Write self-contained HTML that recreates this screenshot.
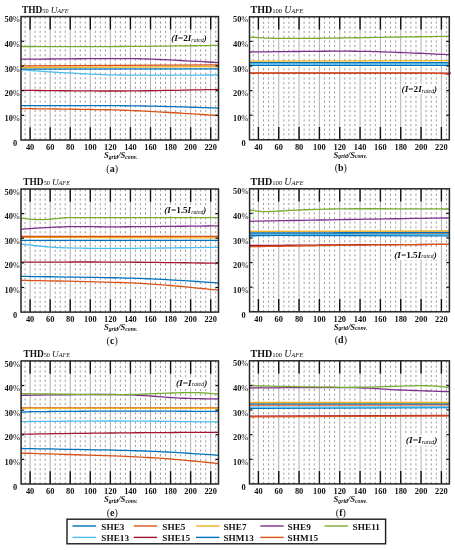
<!DOCTYPE html>
<html><head><meta charset="utf-8"><title>THD figure</title>
<style>
html,body{margin:0;padding:0;background:#fff;}
body{width:455px;height:550px;overflow:hidden;}
svg{display:block;}
svg text{font-family:'Liberation Serif','Times New Roman',serif;fill:#111;}
</style></head>
<body>
<svg width="455" height="550" viewBox="0 0 455 550">
<rect width="455" height="550" fill="#fff"/>
<line x1="25.08" y1="16.6" x2="25.08" y2="140" stroke="#8e8e8e" stroke-width="0.9" stroke-dasharray="2.1 2.55" stroke-dashoffset="-0.25" />
<line x1="35.12" y1="16.6" x2="35.12" y2="140" stroke="#8e8e8e" stroke-width="0.9" stroke-dasharray="2.1 2.55" stroke-dashoffset="-0.25" />
<line x1="40.13" y1="16.6" x2="40.13" y2="140" stroke="#8e8e8e" stroke-width="0.9" stroke-dasharray="2.1 2.55" stroke-dashoffset="-0.25" />
<line x1="45.15" y1="16.6" x2="45.15" y2="140" stroke="#8e8e8e" stroke-width="0.9" stroke-dasharray="2.1 2.55" stroke-dashoffset="-0.25" />
<line x1="55.18" y1="16.6" x2="55.18" y2="140" stroke="#8e8e8e" stroke-width="0.9" stroke-dasharray="2.1 2.55" stroke-dashoffset="-0.25" />
<line x1="60.2" y1="16.6" x2="60.2" y2="140" stroke="#8e8e8e" stroke-width="0.9" stroke-dasharray="2.1 2.55" stroke-dashoffset="-0.25" />
<line x1="65.22" y1="16.6" x2="65.22" y2="140" stroke="#8e8e8e" stroke-width="0.9" stroke-dasharray="2.1 2.55" stroke-dashoffset="-0.25" />
<line x1="75.25" y1="16.6" x2="75.25" y2="140" stroke="#8e8e8e" stroke-width="0.9" stroke-dasharray="2.1 2.55" stroke-dashoffset="-0.25" />
<line x1="80.27" y1="16.6" x2="80.27" y2="140" stroke="#8e8e8e" stroke-width="0.9" stroke-dasharray="2.1 2.55" stroke-dashoffset="-0.25" />
<line x1="85.28" y1="16.6" x2="85.28" y2="140" stroke="#8e8e8e" stroke-width="0.9" stroke-dasharray="2.1 2.55" stroke-dashoffset="-0.25" />
<line x1="95.32" y1="16.6" x2="95.32" y2="140" stroke="#8e8e8e" stroke-width="0.9" stroke-dasharray="2.1 2.55" stroke-dashoffset="-0.25" />
<line x1="100.33" y1="16.6" x2="100.33" y2="140" stroke="#8e8e8e" stroke-width="0.9" stroke-dasharray="2.1 2.55" stroke-dashoffset="-0.25" />
<line x1="105.35" y1="16.6" x2="105.35" y2="140" stroke="#8e8e8e" stroke-width="0.9" stroke-dasharray="2.1 2.55" stroke-dashoffset="-0.25" />
<line x1="115.38" y1="16.6" x2="115.38" y2="140" stroke="#8e8e8e" stroke-width="0.9" stroke-dasharray="2.1 2.55" stroke-dashoffset="-0.25" />
<line x1="120.4" y1="16.6" x2="120.4" y2="140" stroke="#8e8e8e" stroke-width="0.9" stroke-dasharray="2.1 2.55" stroke-dashoffset="-0.25" />
<line x1="125.42" y1="16.6" x2="125.42" y2="140" stroke="#8e8e8e" stroke-width="0.9" stroke-dasharray="2.1 2.55" stroke-dashoffset="-0.25" />
<line x1="135.45" y1="16.6" x2="135.45" y2="140" stroke="#8e8e8e" stroke-width="0.9" stroke-dasharray="2.1 2.55" stroke-dashoffset="-0.25" />
<line x1="140.47" y1="16.6" x2="140.47" y2="140" stroke="#8e8e8e" stroke-width="0.9" stroke-dasharray="2.1 2.55" stroke-dashoffset="-0.25" />
<line x1="145.48" y1="16.6" x2="145.48" y2="140" stroke="#8e8e8e" stroke-width="0.9" stroke-dasharray="2.1 2.55" stroke-dashoffset="-0.25" />
<line x1="155.52" y1="16.6" x2="155.52" y2="140" stroke="#8e8e8e" stroke-width="0.9" stroke-dasharray="2.1 2.55" stroke-dashoffset="-0.25" />
<line x1="160.53" y1="16.6" x2="160.53" y2="140" stroke="#8e8e8e" stroke-width="0.9" stroke-dasharray="2.1 2.55" stroke-dashoffset="-0.25" />
<line x1="165.55" y1="16.6" x2="165.55" y2="140" stroke="#8e8e8e" stroke-width="0.9" stroke-dasharray="2.1 2.55" stroke-dashoffset="-0.25" />
<line x1="175.58" y1="16.6" x2="175.58" y2="140" stroke="#8e8e8e" stroke-width="0.9" stroke-dasharray="2.1 2.55" stroke-dashoffset="-0.25" />
<line x1="180.6" y1="16.6" x2="180.6" y2="140" stroke="#8e8e8e" stroke-width="0.9" stroke-dasharray="2.1 2.55" stroke-dashoffset="-0.25" />
<line x1="185.62" y1="16.6" x2="185.62" y2="140" stroke="#8e8e8e" stroke-width="0.9" stroke-dasharray="2.1 2.55" stroke-dashoffset="-0.25" />
<line x1="195.65" y1="16.6" x2="195.65" y2="140" stroke="#8e8e8e" stroke-width="0.9" stroke-dasharray="2.1 2.55" stroke-dashoffset="-0.25" />
<line x1="200.67" y1="16.6" x2="200.67" y2="140" stroke="#8e8e8e" stroke-width="0.9" stroke-dasharray="2.1 2.55" stroke-dashoffset="-0.25" />
<line x1="205.68" y1="16.6" x2="205.68" y2="140" stroke="#8e8e8e" stroke-width="0.9" stroke-dasharray="2.1 2.55" stroke-dashoffset="-0.25" />
<line x1="215.72" y1="16.6" x2="215.72" y2="140" stroke="#8e8e8e" stroke-width="0.9" stroke-dasharray="2.1 2.55" stroke-dashoffset="-0.25" />
<line x1="30.1" y1="16.6" x2="30.1" y2="140" stroke="#a6a6a6" stroke-width="0.9" />
<line x1="50.17" y1="16.6" x2="50.17" y2="140" stroke="#a6a6a6" stroke-width="0.9" />
<line x1="70.23" y1="16.6" x2="70.23" y2="140" stroke="#a6a6a6" stroke-width="0.9" />
<line x1="90.3" y1="16.6" x2="90.3" y2="140" stroke="#a6a6a6" stroke-width="0.9" />
<line x1="110.37" y1="16.6" x2="110.37" y2="140" stroke="#a6a6a6" stroke-width="0.9" />
<line x1="130.43" y1="16.6" x2="130.43" y2="140" stroke="#a6a6a6" stroke-width="0.9" />
<line x1="150.5" y1="16.6" x2="150.5" y2="140" stroke="#a6a6a6" stroke-width="0.9" />
<line x1="170.57" y1="16.6" x2="170.57" y2="140" stroke="#a6a6a6" stroke-width="0.9" />
<line x1="190.63" y1="16.6" x2="190.63" y2="140" stroke="#a6a6a6" stroke-width="0.9" />
<line x1="210.7" y1="16.6" x2="210.7" y2="140" stroke="#a6a6a6" stroke-width="0.9" />
<path d="M21,108.6 L23.36,108.63 L26.32,108.66 L29.78,108.7 L33.67,108.74 L37.89,108.79 L42.38,108.84 L47.03,108.9 L51.78,108.96 L56.53,109.01 L61.21,109.08 L65.73,109.14 L70,109.2 L74.13,109.26 L78.28,109.32 L82.43,109.37 L86.59,109.42 L90.76,109.48 L94.94,109.54 L99.12,109.6 L103.3,109.68 L107.48,109.76 L111.66,109.86 L115.83,109.97 L120,110.1 L124.17,110.25 L128.35,110.41 L132.54,110.58 L136.72,110.76 L140.91,110.96 L145.09,111.16 L149.27,111.37 L153.44,111.59 L157.61,111.82 L161.75,112.04 L165.89,112.27 L170,112.5 L174.25,112.74 L178.73,113.01 L183.37,113.3 L188.07,113.6 L192.77,113.9 L197.38,114.2 L201.81,114.49 L205.98,114.77 L209.82,115.03 L213.24,115.25 L216.16,115.45 L218.5,115.6" fill="none" stroke="#D95319" stroke-width="1.3" />
<path d="M21,105.7 L25.94,105.7 L32.34,105.69 L39.94,105.68 L48.48,105.67 L57.71,105.65 L67.38,105.64 L77.21,105.64 L86.96,105.63 L96.38,105.64 L105.19,105.65 L113.15,105.67 L120,105.7 L125.89,105.74 L131.19,105.79 L135.98,105.85 L140.35,105.91 L144.38,105.98 L148.16,106.06 L151.75,106.14 L155.26,106.22 L158.75,106.31 L162.32,106.4 L166.04,106.5 L170,106.6 L174.25,106.71 L178.73,106.83 L183.37,106.97 L188.07,107.11 L192.77,107.26 L197.38,107.41 L201.81,107.55 L205.98,107.69 L209.82,107.82 L213.24,107.93 L216.16,108.03 L218.5,108.1" fill="none" stroke="#0072BD" stroke-width="1.3" />
<path d="M21,90.3 L25.79,90.34 L31.78,90.4 L38.8,90.48 L46.69,90.56 L55.26,90.65 L64.34,90.74 L73.77,90.83 L83.37,90.9 L92.96,90.96 L102.38,91 L111.45,91.02 L120,91 L128.54,90.95 L137.59,90.86 L146.97,90.74 L156.52,90.61 L166.06,90.46 L175.44,90.29 L184.47,90.13 L192.98,89.97 L200.81,89.82 L207.79,89.69 L213.74,89.58 L218.5,89.5" fill="none" stroke="#A2142F" stroke-width="1.3" />
<path d="M21,69.5 L21.88,69.58 L22.94,69.68 L24.16,69.8 L25.52,69.94 L27.01,70.08 L28.62,70.24 L30.34,70.4 L32.15,70.56 L34.03,70.73 L35.98,70.89 L37.97,71.05 L40,71.2 L42.05,71.35 L44.13,71.49 L46.26,71.64 L48.44,71.79 L50.71,71.93 L53.06,72.08 L55.53,72.23 L58.11,72.38 L60.84,72.53 L63.72,72.69 L66.76,72.84 L70,73 L73.31,73.17 L76.61,73.34 L79.96,73.53 L83.39,73.73 L86.96,73.92 L90.72,74.11 L94.72,74.3 L99,74.47 L103.62,74.64 L108.63,74.78 L114.07,74.9 L120,75 L126.82,75.07 L134.75,75.12 L143.52,75.14 L152.89,75.15 L162.59,75.14 L172.38,75.12 L181.99,75.1 L191.17,75.07 L199.66,75.05 L207.22,75.02 L213.59,75.01 L218.5,75" fill="none" stroke="#4DBEEE" stroke-width="1.3" />
<path d="M21,69.1 L218.5,68.8" fill="none" stroke="#0072BD" stroke-width="1.3" />
<path d="M21,67.5 L218.5,66.6" fill="none" stroke="#EDB120" stroke-width="1.3" />
<path d="M21,65.9 L218.5,64.9" fill="none" stroke="#D95319" stroke-width="1.3" />
<path d="M21,59.2 L25.97,59.17 L32.45,59.12 L40.17,59.06 L48.85,58.99 L58.22,58.92 L68,58.84 L77.92,58.77 L87.7,58.71 L97.08,58.66 L105.77,58.62 L113.5,58.6 L120,58.6 L125.34,58.62 L129.87,58.64 L133.71,58.67 L137.02,58.71 L139.91,58.76 L142.53,58.82 L145.01,58.89 L147.48,58.98 L150.08,59.09 L152.95,59.21 L156.21,59.34 L160,59.5 L164.41,59.69 L169.36,59.93 L174.7,60.19 L180.3,60.49 L186.03,60.79 L191.75,61.11 L197.34,61.42 L202.65,61.71 L207.55,61.99 L211.92,62.24 L215.61,62.44 L218.5,62.6" fill="none" stroke="#7E2F8E" stroke-width="1.3" />
<path d="M21,46.5 L25.79,46.5 L31.78,46.51 L38.8,46.53 L46.69,46.54 L55.26,46.56 L64.34,46.57 L73.77,46.58 L83.37,46.58 L92.96,46.58 L102.38,46.56 L111.45,46.54 L120,46.5 L128.54,46.44 L137.59,46.37 L146.97,46.28 L156.52,46.17 L166.06,46.06 L175.44,45.95 L184.47,45.84 L192.98,45.73 L200.81,45.62 L207.79,45.53 L213.74,45.46 L218.5,45.4" fill="none" stroke="#77AC30" stroke-width="1.3" />
<line x1="30.1" y1="16.6" x2="30.1" y2="29.4" stroke="#111" stroke-width="1.4" />
<line x1="30.1" y1="127.2" x2="30.1" y2="140" stroke="#111" stroke-width="1.4" />
<line x1="50.17" y1="16.6" x2="50.17" y2="29.4" stroke="#111" stroke-width="1.4" />
<line x1="50.17" y1="127.2" x2="50.17" y2="140" stroke="#111" stroke-width="1.4" />
<line x1="70.23" y1="16.6" x2="70.23" y2="29.4" stroke="#111" stroke-width="1.4" />
<line x1="70.23" y1="127.2" x2="70.23" y2="140" stroke="#111" stroke-width="1.4" />
<line x1="90.3" y1="16.6" x2="90.3" y2="29.4" stroke="#111" stroke-width="1.4" />
<line x1="90.3" y1="127.2" x2="90.3" y2="140" stroke="#111" stroke-width="1.4" />
<line x1="110.37" y1="16.6" x2="110.37" y2="29.4" stroke="#111" stroke-width="1.4" />
<line x1="110.37" y1="127.2" x2="110.37" y2="140" stroke="#111" stroke-width="1.4" />
<line x1="130.43" y1="16.6" x2="130.43" y2="29.4" stroke="#111" stroke-width="1.4" />
<line x1="130.43" y1="127.2" x2="130.43" y2="140" stroke="#111" stroke-width="1.4" />
<line x1="150.5" y1="16.6" x2="150.5" y2="29.4" stroke="#111" stroke-width="1.4" />
<line x1="150.5" y1="127.2" x2="150.5" y2="140" stroke="#111" stroke-width="1.4" />
<line x1="170.57" y1="16.6" x2="170.57" y2="29.4" stroke="#111" stroke-width="1.4" />
<line x1="170.57" y1="127.2" x2="170.57" y2="140" stroke="#111" stroke-width="1.4" />
<line x1="190.63" y1="16.6" x2="190.63" y2="29.4" stroke="#111" stroke-width="1.4" />
<line x1="190.63" y1="127.2" x2="190.63" y2="140" stroke="#111" stroke-width="1.4" />
<line x1="210.7" y1="16.6" x2="210.7" y2="29.4" stroke="#111" stroke-width="1.4" />
<line x1="210.7" y1="127.2" x2="210.7" y2="140" stroke="#111" stroke-width="1.4" />
<line x1="21" y1="115.32" x2="24" y2="115.32" stroke="#111" stroke-width="1.2" />
<line x1="215.5" y1="115.32" x2="218.5" y2="115.32" stroke="#111" stroke-width="1.2" />
<line x1="21" y1="90.64" x2="24" y2="90.64" stroke="#111" stroke-width="1.2" />
<line x1="215.5" y1="90.64" x2="218.5" y2="90.64" stroke="#111" stroke-width="1.2" />
<line x1="21" y1="65.96" x2="24" y2="65.96" stroke="#111" stroke-width="1.2" />
<line x1="215.5" y1="65.96" x2="218.5" y2="65.96" stroke="#111" stroke-width="1.2" />
<line x1="21" y1="41.28" x2="24" y2="41.28" stroke="#111" stroke-width="1.2" />
<line x1="215.5" y1="41.28" x2="218.5" y2="41.28" stroke="#111" stroke-width="1.2" />
<rect x="21" y="16.6" width="197.5" height="123.4" fill="none" stroke="#262626" stroke-width="1.5" />
<text x="19.8" y="22.2" text-anchor="end" font-size="8.4" font-weight="bold">50<tspan font-weight="normal">%</tspan></text>
<text x="19.8" y="46.88" text-anchor="end" font-size="8.4" font-weight="bold">40<tspan font-weight="normal">%</tspan></text>
<text x="19.8" y="71.56" text-anchor="end" font-size="8.4" font-weight="bold">30<tspan font-weight="normal">%</tspan></text>
<text x="19.8" y="96.24" text-anchor="end" font-size="8.4" font-weight="bold">20<tspan font-weight="normal">%</tspan></text>
<text x="19.8" y="120.92" text-anchor="end" font-size="8.4" font-weight="bold">10<tspan font-weight="normal">%</tspan></text>
<text x="17.1" y="146.2" text-anchor="end" font-size="8.4" font-weight="bold">0</text>
<text x="30.1" y="149.7" text-anchor="middle" font-size="8.4" font-weight="bold">40</text>
<text x="50.17" y="149.7" text-anchor="middle" font-size="8.4" font-weight="bold">60</text>
<text x="70.23" y="149.7" text-anchor="middle" font-size="8.4" font-weight="bold">80</text>
<text x="90.3" y="149.7" text-anchor="middle" font-size="8.4" font-weight="bold">100</text>
<text x="110.37" y="149.7" text-anchor="middle" font-size="8.4" font-weight="bold">120</text>
<text x="130.43" y="149.7" text-anchor="middle" font-size="8.4" font-weight="bold">140</text>
<text x="150.5" y="149.7" text-anchor="middle" font-size="8.4" font-weight="bold">160</text>
<text x="170.57" y="149.7" text-anchor="middle" font-size="8.4" font-weight="bold">180</text>
<text x="190.63" y="149.7" text-anchor="middle" font-size="8.4" font-weight="bold">200</text>
<text x="210.7" y="149.7" text-anchor="middle" font-size="8.4" font-weight="bold">220</text>
<text x="120.75" y="158" text-anchor="middle" font-size="8.6" font-style="italic" font-weight="bold">S<tspan font-size="5.7" dy="0.6">grid</tspan><tspan dy="-0.6">/S</tspan><tspan font-size="5.7" dy="0.6">conv.</tspan></text>
<text x="112.15" y="171.6" text-anchor="middle" font-size="10">(<tspan font-weight="bold">a</tspan>)</text>
<text x="22" y="13" font-size="9.4" font-weight="bold">THD<tspan font-size="6.3" font-weight="normal">50</tspan><tspan font-weight="normal" font-style="italic" dx="2.0" font-size="9.21">U</tspan><tspan font-size="6.2" font-weight="normal" font-style="italic">AFE</tspan></text>
<line x1="253.32" y1="16.8" x2="253.32" y2="139.8" stroke="#8e8e8e" stroke-width="0.9" stroke-dasharray="2.1 2.55" stroke-dashoffset="-0.25" />
<line x1="263.48" y1="16.8" x2="263.48" y2="139.8" stroke="#8e8e8e" stroke-width="0.9" stroke-dasharray="2.1 2.55" stroke-dashoffset="-0.25" />
<line x1="268.57" y1="16.8" x2="268.57" y2="139.8" stroke="#8e8e8e" stroke-width="0.9" stroke-dasharray="2.1 2.55" stroke-dashoffset="-0.25" />
<line x1="273.65" y1="16.8" x2="273.65" y2="139.8" stroke="#8e8e8e" stroke-width="0.9" stroke-dasharray="2.1 2.55" stroke-dashoffset="-0.25" />
<line x1="283.82" y1="16.8" x2="283.82" y2="139.8" stroke="#8e8e8e" stroke-width="0.9" stroke-dasharray="2.1 2.55" stroke-dashoffset="-0.25" />
<line x1="288.9" y1="16.8" x2="288.9" y2="139.8" stroke="#8e8e8e" stroke-width="0.9" stroke-dasharray="2.1 2.55" stroke-dashoffset="-0.25" />
<line x1="293.98" y1="16.8" x2="293.98" y2="139.8" stroke="#8e8e8e" stroke-width="0.9" stroke-dasharray="2.1 2.55" stroke-dashoffset="-0.25" />
<line x1="304.15" y1="16.8" x2="304.15" y2="139.8" stroke="#8e8e8e" stroke-width="0.9" stroke-dasharray="2.1 2.55" stroke-dashoffset="-0.25" />
<line x1="309.23" y1="16.8" x2="309.23" y2="139.8" stroke="#8e8e8e" stroke-width="0.9" stroke-dasharray="2.1 2.55" stroke-dashoffset="-0.25" />
<line x1="314.32" y1="16.8" x2="314.32" y2="139.8" stroke="#8e8e8e" stroke-width="0.9" stroke-dasharray="2.1 2.55" stroke-dashoffset="-0.25" />
<line x1="324.48" y1="16.8" x2="324.48" y2="139.8" stroke="#8e8e8e" stroke-width="0.9" stroke-dasharray="2.1 2.55" stroke-dashoffset="-0.25" />
<line x1="329.57" y1="16.8" x2="329.57" y2="139.8" stroke="#8e8e8e" stroke-width="0.9" stroke-dasharray="2.1 2.55" stroke-dashoffset="-0.25" />
<line x1="334.65" y1="16.8" x2="334.65" y2="139.8" stroke="#8e8e8e" stroke-width="0.9" stroke-dasharray="2.1 2.55" stroke-dashoffset="-0.25" />
<line x1="344.82" y1="16.8" x2="344.82" y2="139.8" stroke="#8e8e8e" stroke-width="0.9" stroke-dasharray="2.1 2.55" stroke-dashoffset="-0.25" />
<line x1="349.9" y1="16.8" x2="349.9" y2="139.8" stroke="#8e8e8e" stroke-width="0.9" stroke-dasharray="2.1 2.55" stroke-dashoffset="-0.25" />
<line x1="354.98" y1="16.8" x2="354.98" y2="139.8" stroke="#8e8e8e" stroke-width="0.9" stroke-dasharray="2.1 2.55" stroke-dashoffset="-0.25" />
<line x1="365.15" y1="16.8" x2="365.15" y2="139.8" stroke="#8e8e8e" stroke-width="0.9" stroke-dasharray="2.1 2.55" stroke-dashoffset="-0.25" />
<line x1="370.23" y1="16.8" x2="370.23" y2="139.8" stroke="#8e8e8e" stroke-width="0.9" stroke-dasharray="2.1 2.55" stroke-dashoffset="-0.25" />
<line x1="375.32" y1="16.8" x2="375.32" y2="139.8" stroke="#8e8e8e" stroke-width="0.9" stroke-dasharray="2.1 2.55" stroke-dashoffset="-0.25" />
<line x1="385.48" y1="16.8" x2="385.48" y2="139.8" stroke="#8e8e8e" stroke-width="0.9" stroke-dasharray="2.1 2.55" stroke-dashoffset="-0.25" />
<line x1="390.57" y1="16.8" x2="390.57" y2="139.8" stroke="#8e8e8e" stroke-width="0.9" stroke-dasharray="2.1 2.55" stroke-dashoffset="-0.25" />
<line x1="395.65" y1="16.8" x2="395.65" y2="139.8" stroke="#8e8e8e" stroke-width="0.9" stroke-dasharray="2.1 2.55" stroke-dashoffset="-0.25" />
<line x1="405.82" y1="16.8" x2="405.82" y2="139.8" stroke="#8e8e8e" stroke-width="0.9" stroke-dasharray="2.1 2.55" stroke-dashoffset="-0.25" />
<line x1="410.9" y1="16.8" x2="410.9" y2="139.8" stroke="#8e8e8e" stroke-width="0.9" stroke-dasharray="2.1 2.55" stroke-dashoffset="-0.25" />
<line x1="415.98" y1="16.8" x2="415.98" y2="139.8" stroke="#8e8e8e" stroke-width="0.9" stroke-dasharray="2.1 2.55" stroke-dashoffset="-0.25" />
<line x1="426.15" y1="16.8" x2="426.15" y2="139.8" stroke="#8e8e8e" stroke-width="0.9" stroke-dasharray="2.1 2.55" stroke-dashoffset="-0.25" />
<line x1="431.23" y1="16.8" x2="431.23" y2="139.8" stroke="#8e8e8e" stroke-width="0.9" stroke-dasharray="2.1 2.55" stroke-dashoffset="-0.25" />
<line x1="436.32" y1="16.8" x2="436.32" y2="139.8" stroke="#8e8e8e" stroke-width="0.9" stroke-dasharray="2.1 2.55" stroke-dashoffset="-0.25" />
<line x1="446.48" y1="16.8" x2="446.48" y2="139.8" stroke="#8e8e8e" stroke-width="0.9" stroke-dasharray="2.1 2.55" stroke-dashoffset="-0.25" />
<line x1="258.4" y1="16.8" x2="258.4" y2="139.8" stroke="#a6a6a6" stroke-width="0.9" />
<line x1="278.73" y1="16.8" x2="278.73" y2="139.8" stroke="#a6a6a6" stroke-width="0.9" />
<line x1="299.07" y1="16.8" x2="299.07" y2="139.8" stroke="#a6a6a6" stroke-width="0.9" />
<line x1="319.4" y1="16.8" x2="319.4" y2="139.8" stroke="#a6a6a6" stroke-width="0.9" />
<line x1="339.73" y1="16.8" x2="339.73" y2="139.8" stroke="#a6a6a6" stroke-width="0.9" />
<line x1="360.07" y1="16.8" x2="360.07" y2="139.8" stroke="#a6a6a6" stroke-width="0.9" />
<line x1="380.4" y1="16.8" x2="380.4" y2="139.8" stroke="#a6a6a6" stroke-width="0.9" />
<line x1="400.73" y1="16.8" x2="400.73" y2="139.8" stroke="#a6a6a6" stroke-width="0.9" />
<line x1="421.07" y1="16.8" x2="421.07" y2="139.8" stroke="#a6a6a6" stroke-width="0.9" />
<line x1="441.4" y1="16.8" x2="441.4" y2="139.8" stroke="#a6a6a6" stroke-width="0.9" />
<path d="M249.5,73.1 L258.74,73.1 L271,73.1 L285.71,73.1 L302.27,73.09 L320.08,73.09 L338.54,73.09 L357.08,73.09 L375.09,73.09 L391.98,73.09 L407.16,73.09 L420.03,73.09 L430,73.1 L437.31,73.11 L442.77,73.12 L446.61,73.14 L449.09,73.16 L450.45,73.18 L450.93,73.2 L450.79,73.22 L450.27,73.24 L449.61,73.26 L449.07,73.28 L448.88,73.29 L449.3,73.3" fill="none" stroke="#A2142F" stroke-width="1.3" />
<path d="M249.5,73 L258.19,72.99 L269.68,72.98 L283.45,72.96 L298.93,72.94 L315.6,72.91 L332.92,72.89 L350.33,72.88 L367.31,72.87 L383.31,72.88 L397.78,72.9 L410.19,72.94 L420,73 L427.48,73.09 L433.39,73.2 L437.94,73.35 L441.31,73.5 L443.7,73.67 L445.31,73.85 L446.32,74.03 L446.93,74.2 L447.34,74.35 L447.75,74.5 L448.33,74.61 L449.3,74.7" fill="none" stroke="#D95319" stroke-width="1.3" />
<path d="M249.5,65.3 L449.3,65.3" fill="none" stroke="#0072BD" stroke-width="1.3" />
<path d="M249.5,64 L449.3,64" fill="none" stroke="#4DBEEE" stroke-width="1.3" />
<path d="M249.5,62.6 L449.3,62.6" fill="none" stroke="#0072BD" stroke-width="1.3" />
<path d="M249.5,61.1 L449.3,60.7" fill="none" stroke="#EDB120" stroke-width="1.3" />
<path d="M249.5,52 L254.41,51.95 L260.75,51.89 L268.29,51.81 L276.76,51.71 L285.91,51.62 L295.5,51.52 L305.27,51.42 L314.96,51.34 L324.34,51.27 L333.13,51.22 L341.11,51.2 L348,51.2 L353.97,51.23 L359.39,51.28 L364.33,51.36 L368.88,51.44 L373.1,51.55 L377.07,51.66 L380.88,51.79 L384.59,51.92 L388.28,52.06 L392.03,52.21 L395.91,52.35 L400,52.5 L404.36,52.66 L408.94,52.84 L413.67,53.04 L418.46,53.25 L423.23,53.46 L427.9,53.68 L432.39,53.89 L436.62,54.1 L440.5,54.28 L443.97,54.45 L446.93,54.59 L449.3,54.7" fill="none" stroke="#7E2F8E" stroke-width="1.3" />
<path d="M249.5,37 L250.46,37.06 L251.62,37.14 L252.96,37.24 L254.46,37.35 L256.11,37.47 L257.88,37.59 L259.75,37.71 L261.7,37.83 L263.73,37.94 L265.8,38.04 L267.89,38.13 L270,38.2 L272.11,38.25 L274.24,38.3 L276.41,38.34 L278.63,38.37 L280.92,38.39 L283.28,38.41 L285.74,38.42 L288.31,38.42 L291.01,38.42 L293.85,38.42 L296.84,38.41 L300,38.4 L303.36,38.38 L306.91,38.36 L310.64,38.33 L314.52,38.3 L318.52,38.26 L322.62,38.22 L326.8,38.17 L331.04,38.12 L335.3,38.07 L339.56,38.01 L343.8,37.96 L348,37.9 L352.2,37.84 L356.47,37.77 L360.78,37.7 L365.14,37.62 L369.52,37.54 L373.92,37.46 L378.32,37.38 L382.72,37.3 L387.1,37.22 L391.44,37.14 L395.75,37.07 L400,37 L404.36,36.93 L408.94,36.86 L413.67,36.79 L418.46,36.73 L423.23,36.66 L427.9,36.59 L432.39,36.53 L436.62,36.47 L440.5,36.42 L443.97,36.37 L446.93,36.33 L449.3,36.3" fill="none" stroke="#77AC30" stroke-width="1.3" />
<line x1="258.4" y1="16.8" x2="258.4" y2="29.6" stroke="#111" stroke-width="1.4" />
<line x1="258.4" y1="127" x2="258.4" y2="139.8" stroke="#111" stroke-width="1.4" />
<line x1="278.73" y1="16.8" x2="278.73" y2="29.6" stroke="#111" stroke-width="1.4" />
<line x1="278.73" y1="127" x2="278.73" y2="139.8" stroke="#111" stroke-width="1.4" />
<line x1="299.07" y1="16.8" x2="299.07" y2="29.6" stroke="#111" stroke-width="1.4" />
<line x1="299.07" y1="127" x2="299.07" y2="139.8" stroke="#111" stroke-width="1.4" />
<line x1="319.4" y1="16.8" x2="319.4" y2="29.6" stroke="#111" stroke-width="1.4" />
<line x1="319.4" y1="127" x2="319.4" y2="139.8" stroke="#111" stroke-width="1.4" />
<line x1="339.73" y1="16.8" x2="339.73" y2="29.6" stroke="#111" stroke-width="1.4" />
<line x1="339.73" y1="127" x2="339.73" y2="139.8" stroke="#111" stroke-width="1.4" />
<line x1="360.07" y1="16.8" x2="360.07" y2="29.6" stroke="#111" stroke-width="1.4" />
<line x1="360.07" y1="127" x2="360.07" y2="139.8" stroke="#111" stroke-width="1.4" />
<line x1="380.4" y1="16.8" x2="380.4" y2="29.6" stroke="#111" stroke-width="1.4" />
<line x1="380.4" y1="127" x2="380.4" y2="139.8" stroke="#111" stroke-width="1.4" />
<line x1="400.73" y1="16.8" x2="400.73" y2="29.6" stroke="#111" stroke-width="1.4" />
<line x1="400.73" y1="127" x2="400.73" y2="139.8" stroke="#111" stroke-width="1.4" />
<line x1="421.07" y1="16.8" x2="421.07" y2="29.6" stroke="#111" stroke-width="1.4" />
<line x1="421.07" y1="127" x2="421.07" y2="139.8" stroke="#111" stroke-width="1.4" />
<line x1="441.4" y1="16.8" x2="441.4" y2="29.6" stroke="#111" stroke-width="1.4" />
<line x1="441.4" y1="127" x2="441.4" y2="139.8" stroke="#111" stroke-width="1.4" />
<line x1="249.5" y1="115.2" x2="252.5" y2="115.2" stroke="#111" stroke-width="1.2" />
<line x1="446.3" y1="115.2" x2="449.3" y2="115.2" stroke="#111" stroke-width="1.2" />
<line x1="249.5" y1="90.6" x2="252.5" y2="90.6" stroke="#111" stroke-width="1.2" />
<line x1="446.3" y1="90.6" x2="449.3" y2="90.6" stroke="#111" stroke-width="1.2" />
<line x1="249.5" y1="66" x2="252.5" y2="66" stroke="#111" stroke-width="1.2" />
<line x1="446.3" y1="66" x2="449.3" y2="66" stroke="#111" stroke-width="1.2" />
<line x1="249.5" y1="41.4" x2="252.5" y2="41.4" stroke="#111" stroke-width="1.2" />
<line x1="446.3" y1="41.4" x2="449.3" y2="41.4" stroke="#111" stroke-width="1.2" />
<rect x="249.5" y="16.8" width="199.8" height="123" fill="none" stroke="#262626" stroke-width="1.5" />
<text x="248.3" y="22.4" text-anchor="end" font-size="8.4" font-weight="bold">50<tspan font-weight="normal">%</tspan></text>
<text x="248.3" y="47" text-anchor="end" font-size="8.4" font-weight="bold">40<tspan font-weight="normal">%</tspan></text>
<text x="248.3" y="71.6" text-anchor="end" font-size="8.4" font-weight="bold">30<tspan font-weight="normal">%</tspan></text>
<text x="248.3" y="96.2" text-anchor="end" font-size="8.4" font-weight="bold">20<tspan font-weight="normal">%</tspan></text>
<text x="248.3" y="120.8" text-anchor="end" font-size="8.4" font-weight="bold">10<tspan font-weight="normal">%</tspan></text>
<text x="245.6" y="146" text-anchor="end" font-size="8.4" font-weight="bold">0</text>
<text x="258.4" y="149.5" text-anchor="middle" font-size="8.4" font-weight="bold">40</text>
<text x="278.73" y="149.5" text-anchor="middle" font-size="8.4" font-weight="bold">60</text>
<text x="299.07" y="149.5" text-anchor="middle" font-size="8.4" font-weight="bold">80</text>
<text x="319.4" y="149.5" text-anchor="middle" font-size="8.4" font-weight="bold">100</text>
<text x="339.73" y="149.5" text-anchor="middle" font-size="8.4" font-weight="bold">120</text>
<text x="360.07" y="149.5" text-anchor="middle" font-size="8.4" font-weight="bold">140</text>
<text x="380.4" y="149.5" text-anchor="middle" font-size="8.4" font-weight="bold">160</text>
<text x="400.73" y="149.5" text-anchor="middle" font-size="8.4" font-weight="bold">180</text>
<text x="421.07" y="149.5" text-anchor="middle" font-size="8.4" font-weight="bold">200</text>
<text x="441.4" y="149.5" text-anchor="middle" font-size="8.4" font-weight="bold">220</text>
<text x="350.4" y="157.8" text-anchor="middle" font-size="8.6" font-style="italic" font-weight="bold">S<tspan font-size="5.7" dy="0.6">grid</tspan><tspan dy="-0.6">/S</tspan><tspan font-size="5.7" dy="0.6">conv.</tspan></text>
<text x="340.8" y="171.4" text-anchor="middle" font-size="10">(<tspan font-weight="bold">b</tspan>)</text>
<text x="250.5" y="13.2" font-size="10.0" font-weight="bold">THD<tspan font-size="6.7" font-weight="normal">100</tspan><tspan font-weight="normal" font-style="italic" dx="2.0" font-size="9.8">U</tspan><tspan font-size="6.6" font-weight="normal" font-style="italic">AFE</tspan></text>
<line x1="25.08" y1="189" x2="25.08" y2="312.1" stroke="#8e8e8e" stroke-width="0.9" stroke-dasharray="2.1 2.55" stroke-dashoffset="-0.25" />
<line x1="35.12" y1="189" x2="35.12" y2="312.1" stroke="#8e8e8e" stroke-width="0.9" stroke-dasharray="2.1 2.55" stroke-dashoffset="-0.25" />
<line x1="40.13" y1="189" x2="40.13" y2="312.1" stroke="#8e8e8e" stroke-width="0.9" stroke-dasharray="2.1 2.55" stroke-dashoffset="-0.25" />
<line x1="45.15" y1="189" x2="45.15" y2="312.1" stroke="#8e8e8e" stroke-width="0.9" stroke-dasharray="2.1 2.55" stroke-dashoffset="-0.25" />
<line x1="55.18" y1="189" x2="55.18" y2="312.1" stroke="#8e8e8e" stroke-width="0.9" stroke-dasharray="2.1 2.55" stroke-dashoffset="-0.25" />
<line x1="60.2" y1="189" x2="60.2" y2="312.1" stroke="#8e8e8e" stroke-width="0.9" stroke-dasharray="2.1 2.55" stroke-dashoffset="-0.25" />
<line x1="65.22" y1="189" x2="65.22" y2="312.1" stroke="#8e8e8e" stroke-width="0.9" stroke-dasharray="2.1 2.55" stroke-dashoffset="-0.25" />
<line x1="75.25" y1="189" x2="75.25" y2="312.1" stroke="#8e8e8e" stroke-width="0.9" stroke-dasharray="2.1 2.55" stroke-dashoffset="-0.25" />
<line x1="80.27" y1="189" x2="80.27" y2="312.1" stroke="#8e8e8e" stroke-width="0.9" stroke-dasharray="2.1 2.55" stroke-dashoffset="-0.25" />
<line x1="85.28" y1="189" x2="85.28" y2="312.1" stroke="#8e8e8e" stroke-width="0.9" stroke-dasharray="2.1 2.55" stroke-dashoffset="-0.25" />
<line x1="95.32" y1="189" x2="95.32" y2="312.1" stroke="#8e8e8e" stroke-width="0.9" stroke-dasharray="2.1 2.55" stroke-dashoffset="-0.25" />
<line x1="100.33" y1="189" x2="100.33" y2="312.1" stroke="#8e8e8e" stroke-width="0.9" stroke-dasharray="2.1 2.55" stroke-dashoffset="-0.25" />
<line x1="105.35" y1="189" x2="105.35" y2="312.1" stroke="#8e8e8e" stroke-width="0.9" stroke-dasharray="2.1 2.55" stroke-dashoffset="-0.25" />
<line x1="115.38" y1="189" x2="115.38" y2="312.1" stroke="#8e8e8e" stroke-width="0.9" stroke-dasharray="2.1 2.55" stroke-dashoffset="-0.25" />
<line x1="120.4" y1="189" x2="120.4" y2="312.1" stroke="#8e8e8e" stroke-width="0.9" stroke-dasharray="2.1 2.55" stroke-dashoffset="-0.25" />
<line x1="125.42" y1="189" x2="125.42" y2="312.1" stroke="#8e8e8e" stroke-width="0.9" stroke-dasharray="2.1 2.55" stroke-dashoffset="-0.25" />
<line x1="135.45" y1="189" x2="135.45" y2="312.1" stroke="#8e8e8e" stroke-width="0.9" stroke-dasharray="2.1 2.55" stroke-dashoffset="-0.25" />
<line x1="140.47" y1="189" x2="140.47" y2="312.1" stroke="#8e8e8e" stroke-width="0.9" stroke-dasharray="2.1 2.55" stroke-dashoffset="-0.25" />
<line x1="145.48" y1="189" x2="145.48" y2="312.1" stroke="#8e8e8e" stroke-width="0.9" stroke-dasharray="2.1 2.55" stroke-dashoffset="-0.25" />
<line x1="155.52" y1="189" x2="155.52" y2="312.1" stroke="#8e8e8e" stroke-width="0.9" stroke-dasharray="2.1 2.55" stroke-dashoffset="-0.25" />
<line x1="160.53" y1="189" x2="160.53" y2="312.1" stroke="#8e8e8e" stroke-width="0.9" stroke-dasharray="2.1 2.55" stroke-dashoffset="-0.25" />
<line x1="165.55" y1="189" x2="165.55" y2="312.1" stroke="#8e8e8e" stroke-width="0.9" stroke-dasharray="2.1 2.55" stroke-dashoffset="-0.25" />
<line x1="175.58" y1="189" x2="175.58" y2="312.1" stroke="#8e8e8e" stroke-width="0.9" stroke-dasharray="2.1 2.55" stroke-dashoffset="-0.25" />
<line x1="180.6" y1="189" x2="180.6" y2="312.1" stroke="#8e8e8e" stroke-width="0.9" stroke-dasharray="2.1 2.55" stroke-dashoffset="-0.25" />
<line x1="185.62" y1="189" x2="185.62" y2="312.1" stroke="#8e8e8e" stroke-width="0.9" stroke-dasharray="2.1 2.55" stroke-dashoffset="-0.25" />
<line x1="195.65" y1="189" x2="195.65" y2="312.1" stroke="#8e8e8e" stroke-width="0.9" stroke-dasharray="2.1 2.55" stroke-dashoffset="-0.25" />
<line x1="200.67" y1="189" x2="200.67" y2="312.1" stroke="#8e8e8e" stroke-width="0.9" stroke-dasharray="2.1 2.55" stroke-dashoffset="-0.25" />
<line x1="205.68" y1="189" x2="205.68" y2="312.1" stroke="#8e8e8e" stroke-width="0.9" stroke-dasharray="2.1 2.55" stroke-dashoffset="-0.25" />
<line x1="215.72" y1="189" x2="215.72" y2="312.1" stroke="#8e8e8e" stroke-width="0.9" stroke-dasharray="2.1 2.55" stroke-dashoffset="-0.25" />
<line x1="30.1" y1="189" x2="30.1" y2="312.1" stroke="#a6a6a6" stroke-width="0.9" />
<line x1="50.17" y1="189" x2="50.17" y2="312.1" stroke="#a6a6a6" stroke-width="0.9" />
<line x1="70.23" y1="189" x2="70.23" y2="312.1" stroke="#a6a6a6" stroke-width="0.9" />
<line x1="90.3" y1="189" x2="90.3" y2="312.1" stroke="#a6a6a6" stroke-width="0.9" />
<line x1="110.37" y1="189" x2="110.37" y2="312.1" stroke="#a6a6a6" stroke-width="0.9" />
<line x1="130.43" y1="189" x2="130.43" y2="312.1" stroke="#a6a6a6" stroke-width="0.9" />
<line x1="150.5" y1="189" x2="150.5" y2="312.1" stroke="#a6a6a6" stroke-width="0.9" />
<line x1="170.57" y1="189" x2="170.57" y2="312.1" stroke="#a6a6a6" stroke-width="0.9" />
<line x1="190.63" y1="189" x2="190.63" y2="312.1" stroke="#a6a6a6" stroke-width="0.9" />
<line x1="210.7" y1="189" x2="210.7" y2="312.1" stroke="#a6a6a6" stroke-width="0.9" />
<path d="M21,280.3 L25.94,280.4 L32.34,280.53 L39.94,280.68 L48.48,280.84 L57.71,281.02 L67.38,281.21 L77.21,281.42 L86.96,281.63 L96.38,281.84 L105.19,282.06 L113.15,282.28 L120,282.5 L125.89,282.72 L131.19,282.93 L135.98,283.15 L140.35,283.38 L144.38,283.61 L148.16,283.84 L151.75,284.09 L155.26,284.34 L158.75,284.61 L162.32,284.89 L166.04,285.19 L170,285.5 L174.25,285.85 L178.73,286.24 L183.37,286.67 L188.07,287.11 L192.77,287.58 L197.38,288.04 L201.81,288.49 L205.98,288.92 L209.82,289.32 L213.24,289.67 L216.16,289.97 L218.5,290.2" fill="none" stroke="#D95319" stroke-width="1.3" />
<path d="M21,276.4 L25.94,276.47 L32.34,276.56 L39.94,276.66 L48.48,276.77 L57.71,276.9 L67.38,277.03 L77.21,277.17 L86.96,277.31 L96.38,277.46 L105.19,277.61 L113.15,277.76 L120,277.9 L125.89,278.04 L131.19,278.18 L135.98,278.32 L140.35,278.46 L144.38,278.6 L148.16,278.74 L151.75,278.9 L155.26,279.06 L158.75,279.22 L162.32,279.4 L166.04,279.59 L170,279.8 L174.25,280.03 L178.73,280.3 L183.37,280.58 L188.07,280.89 L192.77,281.2 L197.38,281.52 L201.81,281.83 L205.98,282.12 L209.82,282.39 L213.24,282.64 L216.16,282.84 L218.5,283" fill="none" stroke="#0072BD" stroke-width="1.3" />
<path d="M21,262.1 L25.79,262.1 L31.78,262.09 L38.8,262.07 L46.69,262.06 L55.26,262.04 L64.34,262.03 L73.77,262.02 L83.37,262.02 L92.96,262.02 L102.38,262.04 L111.45,262.06 L120,262.1 L128.54,262.16 L137.59,262.23 L146.97,262.32 L156.52,262.43 L166.06,262.54 L175.44,262.65 L184.47,262.76 L192.98,262.87 L200.81,262.98 L207.79,263.07 L213.74,263.14 L218.5,263.2" fill="none" stroke="#A2142F" stroke-width="1.3" />
<path d="M21,244 L22.16,244.13 L23.62,244.3 L25.34,244.5 L27.26,244.72 L29.35,244.96 L31.56,245.22 L33.86,245.48 L36.19,245.73 L38.51,245.98 L40.78,246.21 L42.96,246.42 L45,246.6 L46.86,246.76 L48.56,246.9 L50.14,247.04 L51.67,247.16 L53.19,247.27 L54.75,247.38 L56.41,247.48 L58.22,247.57 L60.23,247.66 L62.5,247.74 L65.07,247.82 L68,247.9 L71.17,247.97 L74.45,248.05 L77.87,248.12 L81.46,248.19 L85.26,248.25 L89.28,248.3 L93.57,248.35 L98.15,248.38 L103.05,248.41 L108.31,248.42 L113.95,248.42 L120,248.4 L126.89,248.36 L134.87,248.3 L143.66,248.21 L153.04,248.11 L162.73,248 L172.5,247.88 L182.09,247.76 L191.24,247.64 L199.71,247.54 L207.25,247.44 L213.59,247.36 L218.5,247.3" fill="none" stroke="#4DBEEE" stroke-width="1.3" />
<path d="M21,240.4 L218.5,240.3" fill="none" stroke="#0072BD" stroke-width="1.3" />
<path d="M21,237.3 L218.5,237.8" fill="none" stroke="#EDB120" stroke-width="1.3" />
<path d="M21,236.5 L218.5,236.3" fill="none" stroke="#D95319" stroke-width="1.3" />
<path d="M21,229.2 L23.26,229.07 L26.06,228.9 L29.33,228.69 L33,228.46 L37,228.2 L41.25,227.94 L45.68,227.68 L50.22,227.43 L54.8,227.2 L59.33,227 L63.76,226.83 L68,226.7 L72.01,226.62 L75.84,226.58 L79.56,226.57 L83.24,226.58 L86.96,226.61 L90.78,226.65 L94.78,226.7 L99.04,226.74 L103.61,226.78 L108.58,226.81 L114.02,226.82 L120,226.8 L126.89,226.76 L134.87,226.7 L143.66,226.62 L153.04,226.54 L162.73,226.45 L172.5,226.36 L182.09,226.26 L191.24,226.17 L199.71,226.09 L207.25,226.01 L213.59,225.95 L218.5,225.9" fill="none" stroke="#7E2F8E" stroke-width="1.3" />
<path d="M21,218.2 L21.91,218.28 L23.06,218.4 L24.39,218.54 L25.89,218.7 L27.52,218.87 L29.25,219.04 L31.05,219.2 L32.89,219.36 L34.73,219.49 L36.56,219.6 L38.32,219.67 L40,219.7 L41.63,219.68 L43.28,219.63 L44.93,219.54 L46.59,219.42 L48.26,219.29 L49.94,219.14 L51.62,218.98 L53.3,218.82 L54.98,218.67 L56.66,218.53 L58.33,218.4 L60,218.3 L61.29,218.21 L61.96,218.13 L62.22,218.06 L62.28,217.99 L62.33,217.92 L62.59,217.86 L63.27,217.81 L64.56,217.76 L66.67,217.71 L69.81,217.67 L74.18,217.63 L80,217.6 L87.83,217.58 L97.83,217.56 L109.54,217.55 L122.52,217.55 L136.32,217.55 L150.5,217.56 L164.61,217.56 L178.2,217.57 L190.84,217.58 L202.06,217.59 L211.43,217.6 L218.5,217.6" fill="none" stroke="#77AC30" stroke-width="1.3" />
<line x1="30.1" y1="189" x2="30.1" y2="201.8" stroke="#111" stroke-width="1.4" />
<line x1="30.1" y1="299.3" x2="30.1" y2="312.1" stroke="#111" stroke-width="1.4" />
<line x1="50.17" y1="189" x2="50.17" y2="201.8" stroke="#111" stroke-width="1.4" />
<line x1="50.17" y1="299.3" x2="50.17" y2="312.1" stroke="#111" stroke-width="1.4" />
<line x1="70.23" y1="189" x2="70.23" y2="201.8" stroke="#111" stroke-width="1.4" />
<line x1="70.23" y1="299.3" x2="70.23" y2="312.1" stroke="#111" stroke-width="1.4" />
<line x1="90.3" y1="189" x2="90.3" y2="201.8" stroke="#111" stroke-width="1.4" />
<line x1="90.3" y1="299.3" x2="90.3" y2="312.1" stroke="#111" stroke-width="1.4" />
<line x1="110.37" y1="189" x2="110.37" y2="201.8" stroke="#111" stroke-width="1.4" />
<line x1="110.37" y1="299.3" x2="110.37" y2="312.1" stroke="#111" stroke-width="1.4" />
<line x1="130.43" y1="189" x2="130.43" y2="201.8" stroke="#111" stroke-width="1.4" />
<line x1="130.43" y1="299.3" x2="130.43" y2="312.1" stroke="#111" stroke-width="1.4" />
<line x1="150.5" y1="189" x2="150.5" y2="201.8" stroke="#111" stroke-width="1.4" />
<line x1="150.5" y1="299.3" x2="150.5" y2="312.1" stroke="#111" stroke-width="1.4" />
<line x1="170.57" y1="189" x2="170.57" y2="201.8" stroke="#111" stroke-width="1.4" />
<line x1="170.57" y1="299.3" x2="170.57" y2="312.1" stroke="#111" stroke-width="1.4" />
<line x1="190.63" y1="189" x2="190.63" y2="201.8" stroke="#111" stroke-width="1.4" />
<line x1="190.63" y1="299.3" x2="190.63" y2="312.1" stroke="#111" stroke-width="1.4" />
<line x1="210.7" y1="189" x2="210.7" y2="201.8" stroke="#111" stroke-width="1.4" />
<line x1="210.7" y1="299.3" x2="210.7" y2="312.1" stroke="#111" stroke-width="1.4" />
<line x1="21" y1="287.48" x2="24" y2="287.48" stroke="#111" stroke-width="1.2" />
<line x1="215.5" y1="287.48" x2="218.5" y2="287.48" stroke="#111" stroke-width="1.2" />
<line x1="21" y1="262.86" x2="24" y2="262.86" stroke="#111" stroke-width="1.2" />
<line x1="215.5" y1="262.86" x2="218.5" y2="262.86" stroke="#111" stroke-width="1.2" />
<line x1="21" y1="238.24" x2="24" y2="238.24" stroke="#111" stroke-width="1.2" />
<line x1="215.5" y1="238.24" x2="218.5" y2="238.24" stroke="#111" stroke-width="1.2" />
<line x1="21" y1="213.62" x2="24" y2="213.62" stroke="#111" stroke-width="1.2" />
<line x1="215.5" y1="213.62" x2="218.5" y2="213.62" stroke="#111" stroke-width="1.2" />
<rect x="21" y="189" width="197.5" height="123.1" fill="none" stroke="#262626" stroke-width="1.5" />
<text x="19.8" y="194.6" text-anchor="end" font-size="8.4" font-weight="bold">50<tspan font-weight="normal">%</tspan></text>
<text x="19.8" y="219.22" text-anchor="end" font-size="8.4" font-weight="bold">40<tspan font-weight="normal">%</tspan></text>
<text x="19.8" y="243.84" text-anchor="end" font-size="8.4" font-weight="bold">30<tspan font-weight="normal">%</tspan></text>
<text x="19.8" y="268.46" text-anchor="end" font-size="8.4" font-weight="bold">20<tspan font-weight="normal">%</tspan></text>
<text x="19.8" y="293.08" text-anchor="end" font-size="8.4" font-weight="bold">10<tspan font-weight="normal">%</tspan></text>
<text x="17.1" y="318.3" text-anchor="end" font-size="8.4" font-weight="bold">0</text>
<text x="30.1" y="321.8" text-anchor="middle" font-size="8.4" font-weight="bold">40</text>
<text x="50.17" y="321.8" text-anchor="middle" font-size="8.4" font-weight="bold">60</text>
<text x="70.23" y="321.8" text-anchor="middle" font-size="8.4" font-weight="bold">80</text>
<text x="90.3" y="321.8" text-anchor="middle" font-size="8.4" font-weight="bold">100</text>
<text x="110.37" y="321.8" text-anchor="middle" font-size="8.4" font-weight="bold">120</text>
<text x="130.43" y="321.8" text-anchor="middle" font-size="8.4" font-weight="bold">140</text>
<text x="150.5" y="321.8" text-anchor="middle" font-size="8.4" font-weight="bold">160</text>
<text x="170.57" y="321.8" text-anchor="middle" font-size="8.4" font-weight="bold">180</text>
<text x="190.63" y="321.8" text-anchor="middle" font-size="8.4" font-weight="bold">200</text>
<text x="210.7" y="321.8" text-anchor="middle" font-size="8.4" font-weight="bold">220</text>
<text x="120.75" y="330.1" text-anchor="middle" font-size="8.6" font-style="italic" font-weight="bold">S<tspan font-size="5.7" dy="0.6">grid</tspan><tspan dy="-0.6">/S</tspan><tspan font-size="5.7" dy="0.6">conv.</tspan></text>
<text x="112.15" y="343.7" text-anchor="middle" font-size="10">(<tspan font-weight="bold">c</tspan>)</text>
<text x="23.3" y="185.4" font-size="9.4" font-weight="bold">THD<tspan font-size="6.3" font-weight="normal">50</tspan><tspan font-weight="normal" font-style="italic" dx="2.0" font-size="9.21">U</tspan><tspan font-size="6.2" font-weight="normal" font-style="italic">AFE</tspan></text>
<line x1="253.32" y1="188.8" x2="253.32" y2="311.8" stroke="#8e8e8e" stroke-width="0.9" stroke-dasharray="2.1 2.55" stroke-dashoffset="-0.25" />
<line x1="263.48" y1="188.8" x2="263.48" y2="311.8" stroke="#8e8e8e" stroke-width="0.9" stroke-dasharray="2.1 2.55" stroke-dashoffset="-0.25" />
<line x1="268.57" y1="188.8" x2="268.57" y2="311.8" stroke="#8e8e8e" stroke-width="0.9" stroke-dasharray="2.1 2.55" stroke-dashoffset="-0.25" />
<line x1="273.65" y1="188.8" x2="273.65" y2="311.8" stroke="#8e8e8e" stroke-width="0.9" stroke-dasharray="2.1 2.55" stroke-dashoffset="-0.25" />
<line x1="283.82" y1="188.8" x2="283.82" y2="311.8" stroke="#8e8e8e" stroke-width="0.9" stroke-dasharray="2.1 2.55" stroke-dashoffset="-0.25" />
<line x1="288.9" y1="188.8" x2="288.9" y2="311.8" stroke="#8e8e8e" stroke-width="0.9" stroke-dasharray="2.1 2.55" stroke-dashoffset="-0.25" />
<line x1="293.98" y1="188.8" x2="293.98" y2="311.8" stroke="#8e8e8e" stroke-width="0.9" stroke-dasharray="2.1 2.55" stroke-dashoffset="-0.25" />
<line x1="304.15" y1="188.8" x2="304.15" y2="311.8" stroke="#8e8e8e" stroke-width="0.9" stroke-dasharray="2.1 2.55" stroke-dashoffset="-0.25" />
<line x1="309.23" y1="188.8" x2="309.23" y2="311.8" stroke="#8e8e8e" stroke-width="0.9" stroke-dasharray="2.1 2.55" stroke-dashoffset="-0.25" />
<line x1="314.32" y1="188.8" x2="314.32" y2="311.8" stroke="#8e8e8e" stroke-width="0.9" stroke-dasharray="2.1 2.55" stroke-dashoffset="-0.25" />
<line x1="324.48" y1="188.8" x2="324.48" y2="311.8" stroke="#8e8e8e" stroke-width="0.9" stroke-dasharray="2.1 2.55" stroke-dashoffset="-0.25" />
<line x1="329.57" y1="188.8" x2="329.57" y2="311.8" stroke="#8e8e8e" stroke-width="0.9" stroke-dasharray="2.1 2.55" stroke-dashoffset="-0.25" />
<line x1="334.65" y1="188.8" x2="334.65" y2="311.8" stroke="#8e8e8e" stroke-width="0.9" stroke-dasharray="2.1 2.55" stroke-dashoffset="-0.25" />
<line x1="344.82" y1="188.8" x2="344.82" y2="311.8" stroke="#8e8e8e" stroke-width="0.9" stroke-dasharray="2.1 2.55" stroke-dashoffset="-0.25" />
<line x1="349.9" y1="188.8" x2="349.9" y2="311.8" stroke="#8e8e8e" stroke-width="0.9" stroke-dasharray="2.1 2.55" stroke-dashoffset="-0.25" />
<line x1="354.98" y1="188.8" x2="354.98" y2="311.8" stroke="#8e8e8e" stroke-width="0.9" stroke-dasharray="2.1 2.55" stroke-dashoffset="-0.25" />
<line x1="365.15" y1="188.8" x2="365.15" y2="311.8" stroke="#8e8e8e" stroke-width="0.9" stroke-dasharray="2.1 2.55" stroke-dashoffset="-0.25" />
<line x1="370.23" y1="188.8" x2="370.23" y2="311.8" stroke="#8e8e8e" stroke-width="0.9" stroke-dasharray="2.1 2.55" stroke-dashoffset="-0.25" />
<line x1="375.32" y1="188.8" x2="375.32" y2="311.8" stroke="#8e8e8e" stroke-width="0.9" stroke-dasharray="2.1 2.55" stroke-dashoffset="-0.25" />
<line x1="385.48" y1="188.8" x2="385.48" y2="311.8" stroke="#8e8e8e" stroke-width="0.9" stroke-dasharray="2.1 2.55" stroke-dashoffset="-0.25" />
<line x1="390.57" y1="188.8" x2="390.57" y2="311.8" stroke="#8e8e8e" stroke-width="0.9" stroke-dasharray="2.1 2.55" stroke-dashoffset="-0.25" />
<line x1="395.65" y1="188.8" x2="395.65" y2="311.8" stroke="#8e8e8e" stroke-width="0.9" stroke-dasharray="2.1 2.55" stroke-dashoffset="-0.25" />
<line x1="405.82" y1="188.8" x2="405.82" y2="311.8" stroke="#8e8e8e" stroke-width="0.9" stroke-dasharray="2.1 2.55" stroke-dashoffset="-0.25" />
<line x1="410.9" y1="188.8" x2="410.9" y2="311.8" stroke="#8e8e8e" stroke-width="0.9" stroke-dasharray="2.1 2.55" stroke-dashoffset="-0.25" />
<line x1="415.98" y1="188.8" x2="415.98" y2="311.8" stroke="#8e8e8e" stroke-width="0.9" stroke-dasharray="2.1 2.55" stroke-dashoffset="-0.25" />
<line x1="426.15" y1="188.8" x2="426.15" y2="311.8" stroke="#8e8e8e" stroke-width="0.9" stroke-dasharray="2.1 2.55" stroke-dashoffset="-0.25" />
<line x1="431.23" y1="188.8" x2="431.23" y2="311.8" stroke="#8e8e8e" stroke-width="0.9" stroke-dasharray="2.1 2.55" stroke-dashoffset="-0.25" />
<line x1="436.32" y1="188.8" x2="436.32" y2="311.8" stroke="#8e8e8e" stroke-width="0.9" stroke-dasharray="2.1 2.55" stroke-dashoffset="-0.25" />
<line x1="446.48" y1="188.8" x2="446.48" y2="311.8" stroke="#8e8e8e" stroke-width="0.9" stroke-dasharray="2.1 2.55" stroke-dashoffset="-0.25" />
<line x1="258.4" y1="188.8" x2="258.4" y2="311.8" stroke="#a6a6a6" stroke-width="0.9" />
<line x1="278.73" y1="188.8" x2="278.73" y2="311.8" stroke="#a6a6a6" stroke-width="0.9" />
<line x1="299.07" y1="188.8" x2="299.07" y2="311.8" stroke="#a6a6a6" stroke-width="0.9" />
<line x1="319.4" y1="188.8" x2="319.4" y2="311.8" stroke="#a6a6a6" stroke-width="0.9" />
<line x1="339.73" y1="188.8" x2="339.73" y2="311.8" stroke="#a6a6a6" stroke-width="0.9" />
<line x1="360.07" y1="188.8" x2="360.07" y2="311.8" stroke="#a6a6a6" stroke-width="0.9" />
<line x1="380.4" y1="188.8" x2="380.4" y2="311.8" stroke="#a6a6a6" stroke-width="0.9" />
<line x1="400.73" y1="188.8" x2="400.73" y2="311.8" stroke="#a6a6a6" stroke-width="0.9" />
<line x1="421.07" y1="188.8" x2="421.07" y2="311.8" stroke="#a6a6a6" stroke-width="0.9" />
<line x1="441.4" y1="188.8" x2="441.4" y2="311.8" stroke="#a6a6a6" stroke-width="0.9" />
<path d="M249.6,245.4 L252.04,245.39 L255.11,245.38 L258.71,245.37 L262.76,245.36 L267.15,245.34 L271.8,245.32 L276.62,245.31 L281.51,245.29 L286.39,245.27 L291.16,245.25 L295.72,245.22 L300,245.2 L303.91,245.17 L307.52,245.14 L310.92,245.11 L314.2,245.08 L317.47,245.05 L320.81,245.01 L324.34,244.98 L328.13,244.94 L332.3,244.9 L336.94,244.87 L342.14,244.83 L348,244.8 L354.9,244.77 L362.98,244.73 L371.97,244.69 L381.6,244.65 L391.6,244.61 L401.7,244.58 L411.63,244.54 L421.13,244.5 L429.93,244.47 L437.75,244.44 L444.33,244.42 L449.4,244.4" fill="none" stroke="#A2142F" stroke-width="1.3" />
<path d="M249.6,246.7 L252.04,246.67 L255.11,246.62 L258.71,246.58 L262.76,246.52 L267.15,246.46 L271.8,246.4 L276.62,246.33 L281.51,246.27 L286.39,246.2 L291.16,246.13 L295.72,246.06 L300,246 L303.91,245.94 L307.52,245.87 L310.92,245.81 L314.2,245.74 L317.47,245.68 L320.81,245.61 L324.34,245.55 L328.13,245.48 L332.3,245.41 L336.94,245.34 L342.14,245.27 L348,245.2 L354.9,245.13 L362.98,245.05 L371.97,244.96 L381.6,244.87 L391.6,244.79 L401.7,244.7 L411.63,244.62 L421.13,244.54 L429.93,244.46 L437.75,244.4 L444.33,244.34 L449.4,244.3" fill="none" stroke="#D95319" stroke-width="1.3" />
<path d="M249.6,233.8 L253.36,233.79 L257.9,233.78 L263.13,233.77 L269,233.75 L275.43,233.74 L282.34,233.72 L289.66,233.7 L297.33,233.68 L305.27,233.66 L313.41,233.64 L321.68,233.62 L330,233.6 L338.96,233.58 L349.02,233.55 L359.91,233.53 L371.33,233.5 L383.03,233.47 L394.73,233.44 L406.14,233.41 L417,233.38 L427.03,233.36 L435.96,233.33 L443.51,233.31 L449.4,233.3" fill="none" stroke="#D95319" stroke-width="1.3" />
<path d="M249.6,236.6 L250.19,236.55 L250.7,236.49 L251.2,236.42 L251.76,236.34 L252.41,236.26 L253.24,236.17 L254.29,236.07 L255.62,235.98 L257.3,235.88 L259.38,235.78 L261.93,235.69 L265,235.6 L268.51,235.51 L272.33,235.41 L276.49,235.31 L280.98,235.2 L285.81,235.09 L291,234.99 L296.55,234.89 L302.47,234.79 L308.76,234.7 L315.44,234.62 L322.52,234.55 L330,234.5 L338.43,234.46 L348.13,234.44 L358.82,234.42 L370.19,234.42 L381.94,234.42 L393.76,234.43 L405.36,234.44 L416.43,234.46 L426.67,234.47 L435.78,234.49 L443.46,234.5 L449.4,234.5" fill="none" stroke="#4DBEEE" stroke-width="1.3" />
<path d="M249.6,235.4 L449.4,235.9" fill="none" stroke="#0072BD" stroke-width="1.3" />
<path d="M249.6,234 L449.4,234.5" fill="none" stroke="#4DBEEE" stroke-width="1.3" />
<path d="M249.6,232.8 L253.36,232.8 L257.9,232.81 L263.13,232.81 L269,232.82 L275.43,232.83 L282.34,232.83 L289.66,232.84 L297.33,232.84 L305.27,232.84 L313.41,232.83 L321.68,232.82 L330,232.8 L338.96,232.77 L349.02,232.74 L359.91,232.7 L371.33,232.65 L383.03,232.6 L394.73,232.55 L406.14,232.5 L417,232.45 L427.03,232.4 L435.96,232.36 L443.51,232.33 L449.4,232.3" fill="none" stroke="#0072BD" stroke-width="1.3" />
<path d="M249.6,231.4 L449.4,231" fill="none" stroke="#EDB120" stroke-width="1.3" />
<path d="M249.6,221.3 L254.35,221.21 L260.27,221.1 L267.21,220.97 L275,220.83 L283.47,220.67 L292.46,220.5 L301.8,220.33 L311.33,220.15 L320.88,219.98 L330.29,219.81 L339.38,219.65 L348,219.5 L356.67,219.35 L365.9,219.2 L375.52,219.05 L385.33,218.89 L395.17,218.74 L404.85,218.59 L414.19,218.44 L423,218.31 L431.11,218.18 L438.33,218.07 L444.49,217.98 L449.4,217.9" fill="none" stroke="#7E2F8E" stroke-width="1.3" />
<path d="M249.6,209.9 L250.31,209.99 L251.13,210.12 L252.04,210.28 L253.07,210.46 L254.2,210.65 L255.45,210.85 L256.82,211.04 L258.31,211.21 L259.93,211.37 L261.68,211.49 L263.57,211.57 L265.6,211.6 L267.78,211.58 L270.11,211.52 L272.59,211.42 L275.2,211.3 L277.94,211.15 L280.8,210.98 L283.77,210.81 L286.84,210.63 L290.01,210.45 L293.27,210.28 L296.6,210.13 L300,210 L303.35,209.88 L306.59,209.76 L309.79,209.64 L313.01,209.52 L316.33,209.4 L319.81,209.29 L323.53,209.18 L327.54,209.08 L331.93,208.99 L336.75,208.91 L342.09,208.85 L348,208.8 L354.9,208.77 L362.98,208.75 L371.97,208.76 L381.6,208.77 L391.6,208.79 L401.7,208.83 L411.63,208.86 L421.13,208.9 L429.93,208.93 L437.75,208.96 L444.33,208.99 L449.4,209" fill="none" stroke="#77AC30" stroke-width="1.3" />
<line x1="258.4" y1="188.8" x2="258.4" y2="201.6" stroke="#111" stroke-width="1.4" />
<line x1="258.4" y1="299" x2="258.4" y2="311.8" stroke="#111" stroke-width="1.4" />
<line x1="278.73" y1="188.8" x2="278.73" y2="201.6" stroke="#111" stroke-width="1.4" />
<line x1="278.73" y1="299" x2="278.73" y2="311.8" stroke="#111" stroke-width="1.4" />
<line x1="299.07" y1="188.8" x2="299.07" y2="201.6" stroke="#111" stroke-width="1.4" />
<line x1="299.07" y1="299" x2="299.07" y2="311.8" stroke="#111" stroke-width="1.4" />
<line x1="319.4" y1="188.8" x2="319.4" y2="201.6" stroke="#111" stroke-width="1.4" />
<line x1="319.4" y1="299" x2="319.4" y2="311.8" stroke="#111" stroke-width="1.4" />
<line x1="339.73" y1="188.8" x2="339.73" y2="201.6" stroke="#111" stroke-width="1.4" />
<line x1="339.73" y1="299" x2="339.73" y2="311.8" stroke="#111" stroke-width="1.4" />
<line x1="360.07" y1="188.8" x2="360.07" y2="201.6" stroke="#111" stroke-width="1.4" />
<line x1="360.07" y1="299" x2="360.07" y2="311.8" stroke="#111" stroke-width="1.4" />
<line x1="380.4" y1="188.8" x2="380.4" y2="201.6" stroke="#111" stroke-width="1.4" />
<line x1="380.4" y1="299" x2="380.4" y2="311.8" stroke="#111" stroke-width="1.4" />
<line x1="400.73" y1="188.8" x2="400.73" y2="201.6" stroke="#111" stroke-width="1.4" />
<line x1="400.73" y1="299" x2="400.73" y2="311.8" stroke="#111" stroke-width="1.4" />
<line x1="421.07" y1="188.8" x2="421.07" y2="201.6" stroke="#111" stroke-width="1.4" />
<line x1="421.07" y1="299" x2="421.07" y2="311.8" stroke="#111" stroke-width="1.4" />
<line x1="441.4" y1="188.8" x2="441.4" y2="201.6" stroke="#111" stroke-width="1.4" />
<line x1="441.4" y1="299" x2="441.4" y2="311.8" stroke="#111" stroke-width="1.4" />
<line x1="249.6" y1="287.2" x2="252.6" y2="287.2" stroke="#111" stroke-width="1.2" />
<line x1="446.4" y1="287.2" x2="449.4" y2="287.2" stroke="#111" stroke-width="1.2" />
<line x1="249.6" y1="262.6" x2="252.6" y2="262.6" stroke="#111" stroke-width="1.2" />
<line x1="446.4" y1="262.6" x2="449.4" y2="262.6" stroke="#111" stroke-width="1.2" />
<line x1="249.6" y1="238" x2="252.6" y2="238" stroke="#111" stroke-width="1.2" />
<line x1="446.4" y1="238" x2="449.4" y2="238" stroke="#111" stroke-width="1.2" />
<line x1="249.6" y1="213.4" x2="252.6" y2="213.4" stroke="#111" stroke-width="1.2" />
<line x1="446.4" y1="213.4" x2="449.4" y2="213.4" stroke="#111" stroke-width="1.2" />
<rect x="249.6" y="188.8" width="199.8" height="123" fill="none" stroke="#262626" stroke-width="1.5" />
<text x="248.4" y="194.4" text-anchor="end" font-size="8.4" font-weight="bold">50<tspan font-weight="normal">%</tspan></text>
<text x="248.4" y="219" text-anchor="end" font-size="8.4" font-weight="bold">40<tspan font-weight="normal">%</tspan></text>
<text x="248.4" y="243.6" text-anchor="end" font-size="8.4" font-weight="bold">30<tspan font-weight="normal">%</tspan></text>
<text x="248.4" y="268.2" text-anchor="end" font-size="8.4" font-weight="bold">20<tspan font-weight="normal">%</tspan></text>
<text x="248.4" y="292.8" text-anchor="end" font-size="8.4" font-weight="bold">10<tspan font-weight="normal">%</tspan></text>
<text x="245.7" y="318" text-anchor="end" font-size="8.4" font-weight="bold">0</text>
<text x="258.4" y="321.5" text-anchor="middle" font-size="8.4" font-weight="bold">40</text>
<text x="278.73" y="321.5" text-anchor="middle" font-size="8.4" font-weight="bold">60</text>
<text x="299.07" y="321.5" text-anchor="middle" font-size="8.4" font-weight="bold">80</text>
<text x="319.4" y="321.5" text-anchor="middle" font-size="8.4" font-weight="bold">100</text>
<text x="339.73" y="321.5" text-anchor="middle" font-size="8.4" font-weight="bold">120</text>
<text x="360.07" y="321.5" text-anchor="middle" font-size="8.4" font-weight="bold">140</text>
<text x="380.4" y="321.5" text-anchor="middle" font-size="8.4" font-weight="bold">160</text>
<text x="400.73" y="321.5" text-anchor="middle" font-size="8.4" font-weight="bold">180</text>
<text x="421.07" y="321.5" text-anchor="middle" font-size="8.4" font-weight="bold">200</text>
<text x="441.4" y="321.5" text-anchor="middle" font-size="8.4" font-weight="bold">220</text>
<text x="350.5" y="329.8" text-anchor="middle" font-size="8.6" font-style="italic" font-weight="bold">S<tspan font-size="5.7" dy="0.6">grid</tspan><tspan dy="-0.6">/S</tspan><tspan font-size="5.7" dy="0.6">conv.</tspan></text>
<text x="340.9" y="343.4" text-anchor="middle" font-size="10">(<tspan font-weight="bold">d</tspan>)</text>
<text x="250.6" y="185.2" font-size="10.0" font-weight="bold">THD<tspan font-size="6.7" font-weight="normal">100</tspan><tspan font-weight="normal" font-style="italic" dx="2.0" font-size="9.8">U</tspan><tspan font-size="6.6" font-weight="normal" font-style="italic">AFE</tspan></text>
<line x1="25.08" y1="360.9" x2="25.08" y2="484" stroke="#8e8e8e" stroke-width="0.9" stroke-dasharray="2.1 2.55" stroke-dashoffset="-0.25" />
<line x1="35.12" y1="360.9" x2="35.12" y2="484" stroke="#8e8e8e" stroke-width="0.9" stroke-dasharray="2.1 2.55" stroke-dashoffset="-0.25" />
<line x1="40.13" y1="360.9" x2="40.13" y2="484" stroke="#8e8e8e" stroke-width="0.9" stroke-dasharray="2.1 2.55" stroke-dashoffset="-0.25" />
<line x1="45.15" y1="360.9" x2="45.15" y2="484" stroke="#8e8e8e" stroke-width="0.9" stroke-dasharray="2.1 2.55" stroke-dashoffset="-0.25" />
<line x1="55.18" y1="360.9" x2="55.18" y2="484" stroke="#8e8e8e" stroke-width="0.9" stroke-dasharray="2.1 2.55" stroke-dashoffset="-0.25" />
<line x1="60.2" y1="360.9" x2="60.2" y2="484" stroke="#8e8e8e" stroke-width="0.9" stroke-dasharray="2.1 2.55" stroke-dashoffset="-0.25" />
<line x1="65.22" y1="360.9" x2="65.22" y2="484" stroke="#8e8e8e" stroke-width="0.9" stroke-dasharray="2.1 2.55" stroke-dashoffset="-0.25" />
<line x1="75.25" y1="360.9" x2="75.25" y2="484" stroke="#8e8e8e" stroke-width="0.9" stroke-dasharray="2.1 2.55" stroke-dashoffset="-0.25" />
<line x1="80.27" y1="360.9" x2="80.27" y2="484" stroke="#8e8e8e" stroke-width="0.9" stroke-dasharray="2.1 2.55" stroke-dashoffset="-0.25" />
<line x1="85.28" y1="360.9" x2="85.28" y2="484" stroke="#8e8e8e" stroke-width="0.9" stroke-dasharray="2.1 2.55" stroke-dashoffset="-0.25" />
<line x1="95.32" y1="360.9" x2="95.32" y2="484" stroke="#8e8e8e" stroke-width="0.9" stroke-dasharray="2.1 2.55" stroke-dashoffset="-0.25" />
<line x1="100.33" y1="360.9" x2="100.33" y2="484" stroke="#8e8e8e" stroke-width="0.9" stroke-dasharray="2.1 2.55" stroke-dashoffset="-0.25" />
<line x1="105.35" y1="360.9" x2="105.35" y2="484" stroke="#8e8e8e" stroke-width="0.9" stroke-dasharray="2.1 2.55" stroke-dashoffset="-0.25" />
<line x1="115.38" y1="360.9" x2="115.38" y2="484" stroke="#8e8e8e" stroke-width="0.9" stroke-dasharray="2.1 2.55" stroke-dashoffset="-0.25" />
<line x1="120.4" y1="360.9" x2="120.4" y2="484" stroke="#8e8e8e" stroke-width="0.9" stroke-dasharray="2.1 2.55" stroke-dashoffset="-0.25" />
<line x1="125.42" y1="360.9" x2="125.42" y2="484" stroke="#8e8e8e" stroke-width="0.9" stroke-dasharray="2.1 2.55" stroke-dashoffset="-0.25" />
<line x1="135.45" y1="360.9" x2="135.45" y2="484" stroke="#8e8e8e" stroke-width="0.9" stroke-dasharray="2.1 2.55" stroke-dashoffset="-0.25" />
<line x1="140.47" y1="360.9" x2="140.47" y2="484" stroke="#8e8e8e" stroke-width="0.9" stroke-dasharray="2.1 2.55" stroke-dashoffset="-0.25" />
<line x1="145.48" y1="360.9" x2="145.48" y2="484" stroke="#8e8e8e" stroke-width="0.9" stroke-dasharray="2.1 2.55" stroke-dashoffset="-0.25" />
<line x1="155.52" y1="360.9" x2="155.52" y2="484" stroke="#8e8e8e" stroke-width="0.9" stroke-dasharray="2.1 2.55" stroke-dashoffset="-0.25" />
<line x1="160.53" y1="360.9" x2="160.53" y2="484" stroke="#8e8e8e" stroke-width="0.9" stroke-dasharray="2.1 2.55" stroke-dashoffset="-0.25" />
<line x1="165.55" y1="360.9" x2="165.55" y2="484" stroke="#8e8e8e" stroke-width="0.9" stroke-dasharray="2.1 2.55" stroke-dashoffset="-0.25" />
<line x1="175.58" y1="360.9" x2="175.58" y2="484" stroke="#8e8e8e" stroke-width="0.9" stroke-dasharray="2.1 2.55" stroke-dashoffset="-0.25" />
<line x1="180.6" y1="360.9" x2="180.6" y2="484" stroke="#8e8e8e" stroke-width="0.9" stroke-dasharray="2.1 2.55" stroke-dashoffset="-0.25" />
<line x1="185.62" y1="360.9" x2="185.62" y2="484" stroke="#8e8e8e" stroke-width="0.9" stroke-dasharray="2.1 2.55" stroke-dashoffset="-0.25" />
<line x1="195.65" y1="360.9" x2="195.65" y2="484" stroke="#8e8e8e" stroke-width="0.9" stroke-dasharray="2.1 2.55" stroke-dashoffset="-0.25" />
<line x1="200.67" y1="360.9" x2="200.67" y2="484" stroke="#8e8e8e" stroke-width="0.9" stroke-dasharray="2.1 2.55" stroke-dashoffset="-0.25" />
<line x1="205.68" y1="360.9" x2="205.68" y2="484" stroke="#8e8e8e" stroke-width="0.9" stroke-dasharray="2.1 2.55" stroke-dashoffset="-0.25" />
<line x1="215.72" y1="360.9" x2="215.72" y2="484" stroke="#8e8e8e" stroke-width="0.9" stroke-dasharray="2.1 2.55" stroke-dashoffset="-0.25" />
<line x1="30.1" y1="360.9" x2="30.1" y2="484" stroke="#a6a6a6" stroke-width="0.9" />
<line x1="50.17" y1="360.9" x2="50.17" y2="484" stroke="#a6a6a6" stroke-width="0.9" />
<line x1="70.23" y1="360.9" x2="70.23" y2="484" stroke="#a6a6a6" stroke-width="0.9" />
<line x1="90.3" y1="360.9" x2="90.3" y2="484" stroke="#a6a6a6" stroke-width="0.9" />
<line x1="110.37" y1="360.9" x2="110.37" y2="484" stroke="#a6a6a6" stroke-width="0.9" />
<line x1="130.43" y1="360.9" x2="130.43" y2="484" stroke="#a6a6a6" stroke-width="0.9" />
<line x1="150.5" y1="360.9" x2="150.5" y2="484" stroke="#a6a6a6" stroke-width="0.9" />
<line x1="170.57" y1="360.9" x2="170.57" y2="484" stroke="#a6a6a6" stroke-width="0.9" />
<line x1="190.63" y1="360.9" x2="190.63" y2="484" stroke="#a6a6a6" stroke-width="0.9" />
<line x1="210.7" y1="360.9" x2="210.7" y2="484" stroke="#a6a6a6" stroke-width="0.9" />
<path d="M21,453.1 L25.94,453.25 L32.34,453.44 L39.94,453.66 L48.48,453.91 L57.71,454.19 L67.38,454.48 L77.21,454.77 L86.96,455.07 L96.38,455.37 L105.19,455.66 L113.15,455.94 L120,456.2 L125.89,456.44 L131.19,456.66 L135.98,456.88 L140.35,457.09 L144.38,457.3 L148.16,457.51 L151.75,457.73 L155.26,457.95 L158.75,458.19 L162.32,458.44 L166.04,458.71 L170,459 L174.25,459.33 L178.73,459.7 L183.37,460.11 L188.07,460.54 L192.77,460.98 L197.38,461.43 L201.81,461.86 L205.98,462.27 L209.82,462.65 L213.24,462.99 L216.16,463.28 L218.5,463.5" fill="none" stroke="#D95319" stroke-width="1.3" />
<path d="M21,448.5 L25.94,448.59 L32.34,448.69 L39.94,448.82 L48.48,448.96 L57.71,449.12 L67.38,449.28 L77.21,449.45 L86.96,449.63 L96.38,449.8 L105.19,449.97 L113.15,450.14 L120,450.3 L125.89,450.45 L131.19,450.6 L135.98,450.74 L140.35,450.88 L144.38,451.02 L148.16,451.17 L151.75,451.32 L155.26,451.47 L158.75,451.64 L162.32,451.81 L166.04,452 L170,452.2 L174.25,452.43 L178.73,452.68 L183.37,452.96 L188.07,453.26 L192.77,453.56 L197.38,453.87 L201.81,454.17 L205.98,454.45 L209.82,454.71 L213.24,454.95 L216.16,455.15 L218.5,455.3" fill="none" stroke="#0072BD" stroke-width="1.3" />
<path d="M21,434.2 L25.79,434.13 L31.78,434.05 L38.8,433.95 L46.69,433.84 L55.26,433.72 L64.34,433.59 L73.77,433.46 L83.37,433.33 L92.96,433.21 L102.38,433.09 L111.45,432.99 L120,432.9 L128.54,432.82 L137.59,432.75 L146.97,432.69 L156.52,432.63 L166.06,432.57 L175.44,432.52 L184.47,432.47 L192.98,432.43 L200.81,432.39 L207.79,432.36 L213.74,432.33 L218.5,432.3" fill="none" stroke="#A2142F" stroke-width="1.3" />
<path d="M21,421.6 L25.79,421.57 L31.78,421.52 L38.8,421.45 L46.69,421.39 L55.26,421.31 L64.34,421.24 L73.77,421.17 L83.37,421.1 L92.96,421.05 L102.38,421.01 L111.45,421 L120,421 L128.54,421.03 L137.59,421.09 L146.97,421.16 L156.52,421.25 L166.06,421.35 L175.44,421.46 L184.47,421.57 L192.98,421.68 L200.81,421.78 L207.79,421.87 L213.74,421.95 L218.5,422" fill="none" stroke="#4DBEEE" stroke-width="1.3" />
<path d="M21,412.2 L21.72,412.17 L22.36,412.13 L22.98,412.09 L23.67,412.04 L24.48,411.99 L25.5,411.93 L26.8,411.87 L28.44,411.81 L30.52,411.76 L33.08,411.7 L36.22,411.65 L40,411.6 L44.47,411.55 L49.59,411.5 L55.28,411.45 L61.46,411.4 L68.07,411.34 L75.03,411.29 L82.27,411.25 L89.7,411.2 L97.27,411.17 L104.89,411.14 L112.49,411.11 L120,411.1 L127.87,411.1 L136.49,411.11 L145.63,411.13 L155.11,411.15 L164.72,411.18 L174.25,411.22 L183.5,411.26 L192.28,411.29 L200.37,411.33 L207.57,411.36 L213.68,411.38 L218.5,411.4" fill="none" stroke="#0072BD" stroke-width="1.3" />
<path d="M21,408 L218.5,408" fill="none" stroke="#D95319" stroke-width="1.3" />
<path d="M21,408.3 L218.5,408.3" fill="none" stroke="#EDB120" stroke-width="1.3" />
<path d="M21,395.3 L25.91,395.25 L32.22,395.18 L39.7,395.08 L48.11,394.96 L57.21,394.85 L66.75,394.73 L76.5,394.63 L86.22,394.55 L95.67,394.5 L104.61,394.48 L112.8,394.51 L120,394.6 L126.43,394.75 L132.51,394.97 L138.25,395.24 L143.69,395.55 L148.85,395.89 L153.78,396.25 L158.5,396.61 L163.04,396.97 L167.43,397.31 L171.7,397.62 L175.88,397.89 L180,398.1 L184.08,398.27 L188.11,398.41 L192.04,398.53 L195.85,398.63 L199.52,398.7 L203,398.77 L206.28,398.82 L209.31,398.86 L212.09,398.9 L214.56,398.93 L216.71,398.96 L218.5,399" fill="none" stroke="#7E2F8E" stroke-width="1.3" />
<path d="M21,393.7 L25.97,393.75 L32.45,393.82 L40.17,393.91 L48.85,394.01 L58.22,394.12 L68,394.23 L77.92,394.33 L87.7,394.42 L97.08,394.5 L105.77,394.56 L113.5,394.6 L120,394.6 L125.41,394.57 L130.14,394.52 L134.27,394.44 L137.89,394.34 L141.1,394.23 L144,394.11 L146.68,393.98 L149.22,393.85 L151.73,393.72 L154.31,393.6 L157.03,393.49 L160,393.4 L163.13,393.31 L166.26,393.22 L169.37,393.12 L172.46,393.01 L175.52,392.92 L178.53,392.82 L181.49,392.74 L184.37,392.67 L187.18,392.62 L189.89,392.59 L192.5,392.58 L195,392.6 L197.44,392.65 L199.85,392.75 L202.23,392.87 L204.56,393.01 L206.8,393.18 L208.94,393.35 L210.96,393.53 L212.83,393.7 L214.55,393.86 L216.08,394 L217.4,394.12 L218.5,394.2" fill="none" stroke="#77AC30" stroke-width="1.3" />
<line x1="30.1" y1="360.9" x2="30.1" y2="373.7" stroke="#111" stroke-width="1.4" />
<line x1="30.1" y1="471.2" x2="30.1" y2="484" stroke="#111" stroke-width="1.4" />
<line x1="50.17" y1="360.9" x2="50.17" y2="373.7" stroke="#111" stroke-width="1.4" />
<line x1="50.17" y1="471.2" x2="50.17" y2="484" stroke="#111" stroke-width="1.4" />
<line x1="70.23" y1="360.9" x2="70.23" y2="373.7" stroke="#111" stroke-width="1.4" />
<line x1="70.23" y1="471.2" x2="70.23" y2="484" stroke="#111" stroke-width="1.4" />
<line x1="90.3" y1="360.9" x2="90.3" y2="373.7" stroke="#111" stroke-width="1.4" />
<line x1="90.3" y1="471.2" x2="90.3" y2="484" stroke="#111" stroke-width="1.4" />
<line x1="110.37" y1="360.9" x2="110.37" y2="373.7" stroke="#111" stroke-width="1.4" />
<line x1="110.37" y1="471.2" x2="110.37" y2="484" stroke="#111" stroke-width="1.4" />
<line x1="130.43" y1="360.9" x2="130.43" y2="373.7" stroke="#111" stroke-width="1.4" />
<line x1="130.43" y1="471.2" x2="130.43" y2="484" stroke="#111" stroke-width="1.4" />
<line x1="150.5" y1="360.9" x2="150.5" y2="373.7" stroke="#111" stroke-width="1.4" />
<line x1="150.5" y1="471.2" x2="150.5" y2="484" stroke="#111" stroke-width="1.4" />
<line x1="170.57" y1="360.9" x2="170.57" y2="373.7" stroke="#111" stroke-width="1.4" />
<line x1="170.57" y1="471.2" x2="170.57" y2="484" stroke="#111" stroke-width="1.4" />
<line x1="190.63" y1="360.9" x2="190.63" y2="373.7" stroke="#111" stroke-width="1.4" />
<line x1="190.63" y1="471.2" x2="190.63" y2="484" stroke="#111" stroke-width="1.4" />
<line x1="210.7" y1="360.9" x2="210.7" y2="373.7" stroke="#111" stroke-width="1.4" />
<line x1="210.7" y1="471.2" x2="210.7" y2="484" stroke="#111" stroke-width="1.4" />
<line x1="21.1" y1="459.38" x2="24.1" y2="459.38" stroke="#111" stroke-width="1.2" />
<line x1="215.5" y1="459.38" x2="218.5" y2="459.38" stroke="#111" stroke-width="1.2" />
<line x1="21.1" y1="434.76" x2="24.1" y2="434.76" stroke="#111" stroke-width="1.2" />
<line x1="215.5" y1="434.76" x2="218.5" y2="434.76" stroke="#111" stroke-width="1.2" />
<line x1="21.1" y1="410.14" x2="24.1" y2="410.14" stroke="#111" stroke-width="1.2" />
<line x1="215.5" y1="410.14" x2="218.5" y2="410.14" stroke="#111" stroke-width="1.2" />
<line x1="21.1" y1="385.52" x2="24.1" y2="385.52" stroke="#111" stroke-width="1.2" />
<line x1="215.5" y1="385.52" x2="218.5" y2="385.52" stroke="#111" stroke-width="1.2" />
<rect x="21.1" y="360.9" width="197.4" height="123.1" fill="none" stroke="#262626" stroke-width="1.5" />
<text x="19.9" y="366.5" text-anchor="end" font-size="8.4" font-weight="bold">50<tspan font-weight="normal">%</tspan></text>
<text x="19.9" y="391.12" text-anchor="end" font-size="8.4" font-weight="bold">40<tspan font-weight="normal">%</tspan></text>
<text x="19.9" y="415.74" text-anchor="end" font-size="8.4" font-weight="bold">30<tspan font-weight="normal">%</tspan></text>
<text x="19.9" y="440.36" text-anchor="end" font-size="8.4" font-weight="bold">20<tspan font-weight="normal">%</tspan></text>
<text x="19.9" y="464.98" text-anchor="end" font-size="8.4" font-weight="bold">10<tspan font-weight="normal">%</tspan></text>
<text x="17.2" y="490.2" text-anchor="end" font-size="8.4" font-weight="bold">0</text>
<text x="30.1" y="493.7" text-anchor="middle" font-size="8.4" font-weight="bold">40</text>
<text x="50.17" y="493.7" text-anchor="middle" font-size="8.4" font-weight="bold">60</text>
<text x="70.23" y="493.7" text-anchor="middle" font-size="8.4" font-weight="bold">80</text>
<text x="90.3" y="493.7" text-anchor="middle" font-size="8.4" font-weight="bold">100</text>
<text x="110.37" y="493.7" text-anchor="middle" font-size="8.4" font-weight="bold">120</text>
<text x="130.43" y="493.7" text-anchor="middle" font-size="8.4" font-weight="bold">140</text>
<text x="150.5" y="493.7" text-anchor="middle" font-size="8.4" font-weight="bold">160</text>
<text x="170.57" y="493.7" text-anchor="middle" font-size="8.4" font-weight="bold">180</text>
<text x="190.63" y="493.7" text-anchor="middle" font-size="8.4" font-weight="bold">200</text>
<text x="210.7" y="493.7" text-anchor="middle" font-size="8.4" font-weight="bold">220</text>
<text x="120.8" y="502" text-anchor="middle" font-size="8.6" font-style="italic" font-weight="bold">S<tspan font-size="5.7" dy="0.6">grid</tspan><tspan dy="-0.6">/S</tspan><tspan font-size="5.7" dy="0.6">conv.</tspan></text>
<text x="112.2" y="515.6" text-anchor="middle" font-size="10">(<tspan font-weight="bold">e</tspan>)</text>
<text x="23.4" y="357.3" font-size="9.4" font-weight="bold">THD<tspan font-size="6.3" font-weight="normal">50</tspan><tspan font-weight="normal" font-style="italic" dx="2.0" font-size="9.21">U</tspan><tspan font-size="6.2" font-weight="normal" font-style="italic">AFE</tspan></text>
<line x1="253.32" y1="360.8" x2="253.32" y2="483.9" stroke="#8e8e8e" stroke-width="0.9" stroke-dasharray="2.1 2.55" stroke-dashoffset="-0.25" />
<line x1="263.48" y1="360.8" x2="263.48" y2="483.9" stroke="#8e8e8e" stroke-width="0.9" stroke-dasharray="2.1 2.55" stroke-dashoffset="-0.25" />
<line x1="268.57" y1="360.8" x2="268.57" y2="483.9" stroke="#8e8e8e" stroke-width="0.9" stroke-dasharray="2.1 2.55" stroke-dashoffset="-0.25" />
<line x1="273.65" y1="360.8" x2="273.65" y2="483.9" stroke="#8e8e8e" stroke-width="0.9" stroke-dasharray="2.1 2.55" stroke-dashoffset="-0.25" />
<line x1="283.82" y1="360.8" x2="283.82" y2="483.9" stroke="#8e8e8e" stroke-width="0.9" stroke-dasharray="2.1 2.55" stroke-dashoffset="-0.25" />
<line x1="288.9" y1="360.8" x2="288.9" y2="483.9" stroke="#8e8e8e" stroke-width="0.9" stroke-dasharray="2.1 2.55" stroke-dashoffset="-0.25" />
<line x1="293.98" y1="360.8" x2="293.98" y2="483.9" stroke="#8e8e8e" stroke-width="0.9" stroke-dasharray="2.1 2.55" stroke-dashoffset="-0.25" />
<line x1="304.15" y1="360.8" x2="304.15" y2="483.9" stroke="#8e8e8e" stroke-width="0.9" stroke-dasharray="2.1 2.55" stroke-dashoffset="-0.25" />
<line x1="309.23" y1="360.8" x2="309.23" y2="483.9" stroke="#8e8e8e" stroke-width="0.9" stroke-dasharray="2.1 2.55" stroke-dashoffset="-0.25" />
<line x1="314.32" y1="360.8" x2="314.32" y2="483.9" stroke="#8e8e8e" stroke-width="0.9" stroke-dasharray="2.1 2.55" stroke-dashoffset="-0.25" />
<line x1="324.48" y1="360.8" x2="324.48" y2="483.9" stroke="#8e8e8e" stroke-width="0.9" stroke-dasharray="2.1 2.55" stroke-dashoffset="-0.25" />
<line x1="329.57" y1="360.8" x2="329.57" y2="483.9" stroke="#8e8e8e" stroke-width="0.9" stroke-dasharray="2.1 2.55" stroke-dashoffset="-0.25" />
<line x1="334.65" y1="360.8" x2="334.65" y2="483.9" stroke="#8e8e8e" stroke-width="0.9" stroke-dasharray="2.1 2.55" stroke-dashoffset="-0.25" />
<line x1="344.82" y1="360.8" x2="344.82" y2="483.9" stroke="#8e8e8e" stroke-width="0.9" stroke-dasharray="2.1 2.55" stroke-dashoffset="-0.25" />
<line x1="349.9" y1="360.8" x2="349.9" y2="483.9" stroke="#8e8e8e" stroke-width="0.9" stroke-dasharray="2.1 2.55" stroke-dashoffset="-0.25" />
<line x1="354.98" y1="360.8" x2="354.98" y2="483.9" stroke="#8e8e8e" stroke-width="0.9" stroke-dasharray="2.1 2.55" stroke-dashoffset="-0.25" />
<line x1="365.15" y1="360.8" x2="365.15" y2="483.9" stroke="#8e8e8e" stroke-width="0.9" stroke-dasharray="2.1 2.55" stroke-dashoffset="-0.25" />
<line x1="370.23" y1="360.8" x2="370.23" y2="483.9" stroke="#8e8e8e" stroke-width="0.9" stroke-dasharray="2.1 2.55" stroke-dashoffset="-0.25" />
<line x1="375.32" y1="360.8" x2="375.32" y2="483.9" stroke="#8e8e8e" stroke-width="0.9" stroke-dasharray="2.1 2.55" stroke-dashoffset="-0.25" />
<line x1="385.48" y1="360.8" x2="385.48" y2="483.9" stroke="#8e8e8e" stroke-width="0.9" stroke-dasharray="2.1 2.55" stroke-dashoffset="-0.25" />
<line x1="390.57" y1="360.8" x2="390.57" y2="483.9" stroke="#8e8e8e" stroke-width="0.9" stroke-dasharray="2.1 2.55" stroke-dashoffset="-0.25" />
<line x1="395.65" y1="360.8" x2="395.65" y2="483.9" stroke="#8e8e8e" stroke-width="0.9" stroke-dasharray="2.1 2.55" stroke-dashoffset="-0.25" />
<line x1="405.82" y1="360.8" x2="405.82" y2="483.9" stroke="#8e8e8e" stroke-width="0.9" stroke-dasharray="2.1 2.55" stroke-dashoffset="-0.25" />
<line x1="410.9" y1="360.8" x2="410.9" y2="483.9" stroke="#8e8e8e" stroke-width="0.9" stroke-dasharray="2.1 2.55" stroke-dashoffset="-0.25" />
<line x1="415.98" y1="360.8" x2="415.98" y2="483.9" stroke="#8e8e8e" stroke-width="0.9" stroke-dasharray="2.1 2.55" stroke-dashoffset="-0.25" />
<line x1="426.15" y1="360.8" x2="426.15" y2="483.9" stroke="#8e8e8e" stroke-width="0.9" stroke-dasharray="2.1 2.55" stroke-dashoffset="-0.25" />
<line x1="431.23" y1="360.8" x2="431.23" y2="483.9" stroke="#8e8e8e" stroke-width="0.9" stroke-dasharray="2.1 2.55" stroke-dashoffset="-0.25" />
<line x1="436.32" y1="360.8" x2="436.32" y2="483.9" stroke="#8e8e8e" stroke-width="0.9" stroke-dasharray="2.1 2.55" stroke-dashoffset="-0.25" />
<line x1="446.48" y1="360.8" x2="446.48" y2="483.9" stroke="#8e8e8e" stroke-width="0.9" stroke-dasharray="2.1 2.55" stroke-dashoffset="-0.25" />
<line x1="258.4" y1="360.8" x2="258.4" y2="483.9" stroke="#a6a6a6" stroke-width="0.9" />
<line x1="278.73" y1="360.8" x2="278.73" y2="483.9" stroke="#a6a6a6" stroke-width="0.9" />
<line x1="299.07" y1="360.8" x2="299.07" y2="483.9" stroke="#a6a6a6" stroke-width="0.9" />
<line x1="319.4" y1="360.8" x2="319.4" y2="483.9" stroke="#a6a6a6" stroke-width="0.9" />
<line x1="339.73" y1="360.8" x2="339.73" y2="483.9" stroke="#a6a6a6" stroke-width="0.9" />
<line x1="360.07" y1="360.8" x2="360.07" y2="483.9" stroke="#a6a6a6" stroke-width="0.9" />
<line x1="380.4" y1="360.8" x2="380.4" y2="483.9" stroke="#a6a6a6" stroke-width="0.9" />
<line x1="400.73" y1="360.8" x2="400.73" y2="483.9" stroke="#a6a6a6" stroke-width="0.9" />
<line x1="421.07" y1="360.8" x2="421.07" y2="483.9" stroke="#a6a6a6" stroke-width="0.9" />
<line x1="441.4" y1="360.8" x2="441.4" y2="483.9" stroke="#a6a6a6" stroke-width="0.9" />
<path d="M249.5,416.2 L449.4,415.5" fill="none" stroke="#A2142F" stroke-width="1.3" />
<path d="M249.5,416.8 L449.4,415.8" fill="none" stroke="#D95319" stroke-width="1.3" />
<path d="M249.5,408.3 L449.4,407.7" fill="none" stroke="#0072BD" stroke-width="1.3" />
<path d="M249.5,407.2 L449.4,406.8" fill="none" stroke="#4DBEEE" stroke-width="1.3" />
<path d="M249.5,405.2 L449.4,404.8" fill="none" stroke="#D95319" stroke-width="1.3" />
<path d="M249.5,403.8 L449.4,403.8" fill="none" stroke="#0072BD" stroke-width="1.3" />
<path d="M249.5,402.5 L449.4,402.5" fill="none" stroke="#EDB120" stroke-width="1.3" />
<path d="M249.5,388 L254.41,387.97 L260.75,387.92 L268.29,387.86 L276.76,387.79 L285.91,387.72 L295.5,387.65 L305.27,387.59 L314.96,387.54 L324.34,387.51 L333.13,387.51 L341.11,387.54 L348,387.6 L353.97,387.7 L359.39,387.85 L364.33,388.02 L368.87,388.22 L373.09,388.44 L377.07,388.67 L380.87,388.91 L384.58,389.15 L388.27,389.38 L392.02,389.61 L395.91,389.82 L400,390 L404.36,390.17 L408.96,390.34 L413.69,390.51 L418.49,390.68 L423.27,390.84 L427.95,391 L432.45,391.15 L436.69,391.29 L440.58,391.41 L444.06,391.52 L447.02,391.62 L449.4,391.7" fill="none" stroke="#7E2F8E" stroke-width="1.3" />
<path d="M249.5,385.8 L254.34,385.88 L260.5,386 L267.77,386.14 L275.94,386.3 L284.8,386.48 L294.12,386.65 L303.71,386.82 L313.33,386.97 L322.79,387.11 L331.86,387.21 L340.34,387.28 L348,387.3 L355.17,387.26 L362.29,387.17 L369.31,387.04 L376.21,386.87 L382.93,386.68 L389.44,386.48 L395.71,386.28 L401.69,386.1 L407.35,385.93 L412.65,385.81 L417.54,385.72 L422,385.7 L426,385.74 L429.58,385.82 L432.77,385.95 L435.6,386.11 L438.11,386.3 L440.32,386.5 L442.29,386.71 L444.02,386.91 L445.57,387.1 L446.96,387.26 L448.22,387.4 L449.4,387.5" fill="none" stroke="#77AC30" stroke-width="1.3" />
<line x1="258.4" y1="360.8" x2="258.4" y2="373.6" stroke="#111" stroke-width="1.4" />
<line x1="258.4" y1="471.1" x2="258.4" y2="483.9" stroke="#111" stroke-width="1.4" />
<line x1="278.73" y1="360.8" x2="278.73" y2="373.6" stroke="#111" stroke-width="1.4" />
<line x1="278.73" y1="471.1" x2="278.73" y2="483.9" stroke="#111" stroke-width="1.4" />
<line x1="299.07" y1="360.8" x2="299.07" y2="373.6" stroke="#111" stroke-width="1.4" />
<line x1="299.07" y1="471.1" x2="299.07" y2="483.9" stroke="#111" stroke-width="1.4" />
<line x1="319.4" y1="360.8" x2="319.4" y2="373.6" stroke="#111" stroke-width="1.4" />
<line x1="319.4" y1="471.1" x2="319.4" y2="483.9" stroke="#111" stroke-width="1.4" />
<line x1="339.73" y1="360.8" x2="339.73" y2="373.6" stroke="#111" stroke-width="1.4" />
<line x1="339.73" y1="471.1" x2="339.73" y2="483.9" stroke="#111" stroke-width="1.4" />
<line x1="360.07" y1="360.8" x2="360.07" y2="373.6" stroke="#111" stroke-width="1.4" />
<line x1="360.07" y1="471.1" x2="360.07" y2="483.9" stroke="#111" stroke-width="1.4" />
<line x1="380.4" y1="360.8" x2="380.4" y2="373.6" stroke="#111" stroke-width="1.4" />
<line x1="380.4" y1="471.1" x2="380.4" y2="483.9" stroke="#111" stroke-width="1.4" />
<line x1="400.73" y1="360.8" x2="400.73" y2="373.6" stroke="#111" stroke-width="1.4" />
<line x1="400.73" y1="471.1" x2="400.73" y2="483.9" stroke="#111" stroke-width="1.4" />
<line x1="421.07" y1="360.8" x2="421.07" y2="373.6" stroke="#111" stroke-width="1.4" />
<line x1="421.07" y1="471.1" x2="421.07" y2="483.9" stroke="#111" stroke-width="1.4" />
<line x1="441.4" y1="360.8" x2="441.4" y2="373.6" stroke="#111" stroke-width="1.4" />
<line x1="441.4" y1="471.1" x2="441.4" y2="483.9" stroke="#111" stroke-width="1.4" />
<line x1="249.5" y1="459.28" x2="252.5" y2="459.28" stroke="#111" stroke-width="1.2" />
<line x1="446.4" y1="459.28" x2="449.4" y2="459.28" stroke="#111" stroke-width="1.2" />
<line x1="249.5" y1="434.66" x2="252.5" y2="434.66" stroke="#111" stroke-width="1.2" />
<line x1="446.4" y1="434.66" x2="449.4" y2="434.66" stroke="#111" stroke-width="1.2" />
<line x1="249.5" y1="410.04" x2="252.5" y2="410.04" stroke="#111" stroke-width="1.2" />
<line x1="446.4" y1="410.04" x2="449.4" y2="410.04" stroke="#111" stroke-width="1.2" />
<line x1="249.5" y1="385.42" x2="252.5" y2="385.42" stroke="#111" stroke-width="1.2" />
<line x1="446.4" y1="385.42" x2="449.4" y2="385.42" stroke="#111" stroke-width="1.2" />
<rect x="249.5" y="360.8" width="199.9" height="123.1" fill="none" stroke="#262626" stroke-width="1.5" />
<text x="248.3" y="366.4" text-anchor="end" font-size="8.4" font-weight="bold">50<tspan font-weight="normal">%</tspan></text>
<text x="248.3" y="391.02" text-anchor="end" font-size="8.4" font-weight="bold">40<tspan font-weight="normal">%</tspan></text>
<text x="248.3" y="415.64" text-anchor="end" font-size="8.4" font-weight="bold">30<tspan font-weight="normal">%</tspan></text>
<text x="248.3" y="440.26" text-anchor="end" font-size="8.4" font-weight="bold">20<tspan font-weight="normal">%</tspan></text>
<text x="248.3" y="464.88" text-anchor="end" font-size="8.4" font-weight="bold">10<tspan font-weight="normal">%</tspan></text>
<text x="245.6" y="490.1" text-anchor="end" font-size="8.4" font-weight="bold">0</text>
<text x="258.4" y="493.6" text-anchor="middle" font-size="8.4" font-weight="bold">40</text>
<text x="278.73" y="493.6" text-anchor="middle" font-size="8.4" font-weight="bold">60</text>
<text x="299.07" y="493.6" text-anchor="middle" font-size="8.4" font-weight="bold">80</text>
<text x="319.4" y="493.6" text-anchor="middle" font-size="8.4" font-weight="bold">100</text>
<text x="339.73" y="493.6" text-anchor="middle" font-size="8.4" font-weight="bold">120</text>
<text x="360.07" y="493.6" text-anchor="middle" font-size="8.4" font-weight="bold">140</text>
<text x="380.4" y="493.6" text-anchor="middle" font-size="8.4" font-weight="bold">160</text>
<text x="400.73" y="493.6" text-anchor="middle" font-size="8.4" font-weight="bold">180</text>
<text x="421.07" y="493.6" text-anchor="middle" font-size="8.4" font-weight="bold">200</text>
<text x="441.4" y="493.6" text-anchor="middle" font-size="8.4" font-weight="bold">220</text>
<text x="350.45" y="501.9" text-anchor="middle" font-size="8.6" font-style="italic" font-weight="bold">S<tspan font-size="5.7" dy="0.6">grid</tspan><tspan dy="-0.6">/S</tspan><tspan font-size="5.7" dy="0.6">conv.</tspan></text>
<text x="340.85" y="515.5" text-anchor="middle" font-size="10">(<tspan font-weight="bold">f</tspan>)</text>
<text x="250.5" y="357.2" font-size="10.0" font-weight="bold">THD<tspan font-size="6.7" font-weight="normal">100</tspan><tspan font-weight="normal" font-style="italic" dx="2.0" font-size="9.8">U</tspan><tspan font-size="6.6" font-weight="normal" font-style="italic">AFE</tspan></text>
<rect x="170.6" y="33.1" width="37.2" height="10.6" fill="#fff" />
<text x="206.8" y="41.3" text-anchor="end" textLength="35.6" lengthAdjust="spacingAndGlyphs" font-size="9.2" font-weight="bold" font-style="italic">(I=<tspan font-style="normal">2</tspan>I<tspan font-size="5.8" font-weight="normal" dy="0.6">rated</tspan><tspan dy="-0.6">)</tspan></text>
<rect x="401" y="83.8" width="37.2" height="10.6" fill="#fff" />
<text x="437.2" y="92" text-anchor="end" textLength="35.6" lengthAdjust="spacingAndGlyphs" font-size="9.2" font-weight="bold" font-style="italic">(I=<tspan font-style="normal">2</tspan>I<tspan font-size="5.8" font-weight="normal" dy="0.6">rated</tspan><tspan dy="-0.6">)</tspan></text>
<rect x="163.7" y="205.1" width="43.7" height="10.6" fill="#fff" />
<text x="206.4" y="213.3" text-anchor="end" textLength="42.1" lengthAdjust="spacingAndGlyphs" font-size="9.2" font-weight="bold" font-style="italic">(I=<tspan font-style="normal">1.5</tspan>I<tspan font-size="5.8" font-weight="normal" dy="0.6">rated</tspan><tspan dy="-0.6">)</tspan></text>
<rect x="393.7" y="249.3" width="44" height="10.6" fill="#fff" />
<text x="436.7" y="257.5" text-anchor="end" textLength="42.4" lengthAdjust="spacingAndGlyphs" font-size="9.2" font-weight="bold" font-style="italic">(I=<tspan font-style="normal">1.5</tspan>I<tspan font-size="5.8" font-weight="normal" dy="0.6">rated</tspan><tspan dy="-0.6">)</tspan></text>
<rect x="175.3" y="377.5" width="33" height="10.6" fill="#fff" />
<text x="207.3" y="385.7" text-anchor="end" textLength="31.4" lengthAdjust="spacingAndGlyphs" font-size="9.2" font-weight="bold" font-style="italic">(I=<tspan font-style="normal"></tspan>I<tspan font-size="5.8" font-weight="normal" dy="0.6">rated</tspan><tspan dy="-0.6">)</tspan></text>
<rect x="405.2" y="435" width="33.3" height="10.6" fill="#fff" />
<text x="437.5" y="443.2" text-anchor="end" textLength="31.7" lengthAdjust="spacingAndGlyphs" font-size="9.2" font-weight="bold" font-style="italic">(I=<tspan font-style="normal"></tspan>I<tspan font-size="5.8" font-weight="normal" dy="0.6">rated</tspan><tspan dy="-0.6">)</tspan></text>
<rect x="67" y="519.2" width="318.6" height="24.6" fill="#fff" stroke="#1a1a1a" stroke-width="1.4" />
<line x1="72.5" y1="526.0" x2="95.9" y2="526.0" stroke="#0072BD" stroke-width="1.4" />
<text x="101.2" y="529.9" font-size="9.2" font-weight="bold" letter-spacing="0.1">SHE3</text>
<line x1="133.7" y1="526.0" x2="157.1" y2="526.0" stroke="#D95319" stroke-width="1.4" />
<text x="162.2" y="529.9" font-size="9.2" font-weight="bold" letter-spacing="0.1">SHE5</text>
<line x1="196" y1="526.0" x2="219.4" y2="526.0" stroke="#EDB120" stroke-width="1.4" />
<text x="223.4" y="529.9" font-size="9.2" font-weight="bold" letter-spacing="0.1">SHE7</text>
<line x1="260.3" y1="526.0" x2="283.7" y2="526.0" stroke="#7E2F8E" stroke-width="1.4" />
<text x="287.5" y="529.9" font-size="9.2" font-weight="bold" letter-spacing="0.1">SHE9</text>
<line x1="324.5" y1="526.0" x2="347.9" y2="526.0" stroke="#77AC30" stroke-width="1.4" />
<text x="352.5" y="529.9" font-size="9.2" font-weight="bold" letter-spacing="0.1">SHE11</text>
<line x1="72.5" y1="537.4" x2="95.9" y2="537.4" stroke="#4DBEEE" stroke-width="1.4" />
<text x="101.2" y="541.3" font-size="9.2" font-weight="bold" letter-spacing="0.1">SHE13</text>
<line x1="133.7" y1="537.4" x2="157.1" y2="537.4" stroke="#A2142F" stroke-width="1.4" />
<text x="162.2" y="541.3" font-size="9.2" font-weight="bold" letter-spacing="0.1">SHE15</text>
<line x1="196" y1="537.4" x2="219.4" y2="537.4" stroke="#0072BD" stroke-width="1.4" />
<text x="223.4" y="541.3" font-size="9.2" font-weight="bold" letter-spacing="0.1">SHM13</text>
<line x1="260.3" y1="537.4" x2="283.7" y2="537.4" stroke="#D95319" stroke-width="1.4" />
<text x="287.5" y="541.3" font-size="9.2" font-weight="bold" letter-spacing="0.1">SHM15</text>
</svg>
</body></html>
